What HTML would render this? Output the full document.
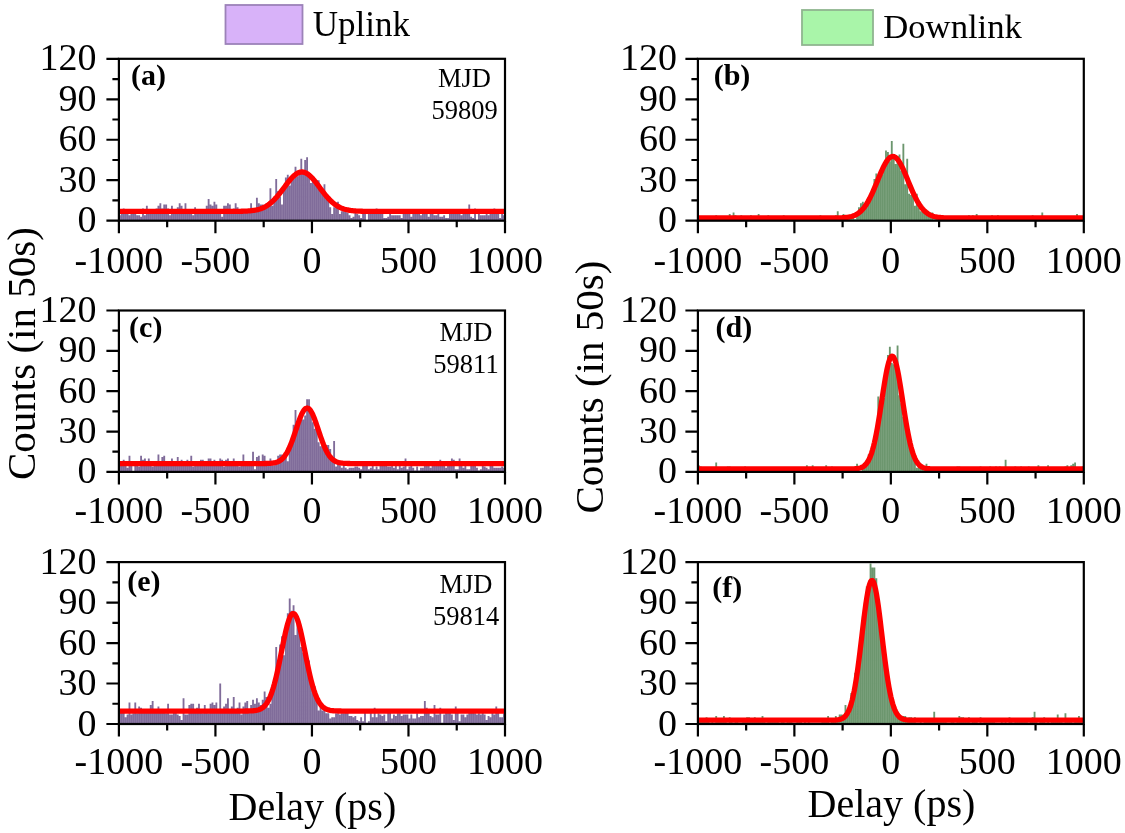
<!DOCTYPE html><html><head><meta charset="utf-8"><style>html,body{margin:0;padding:0;background:#fff;width:1125px;height:833px;overflow:hidden}svg{display:block;filter:blur(0.4px)}text{font-family:"Liberation Serif",serif;fill:#000}</style></head><body>
<svg width="1125" height="833" viewBox="0 0 1125 833">
<path fill="#806c9a" d="M118.90 220.70h1.85v-5.40h-1.85zM120.83 220.70h1.85v-8.09h-1.85zM122.76 220.70h1.85v-12.14h-1.85zM124.69 220.70h1.85v-10.79h-1.85zM126.62 220.70h1.85v-6.75h-1.85zM128.55 220.70h1.85v-5.40h-1.85zM130.48 220.70h1.85v-6.75h-1.85zM132.41 220.70h1.85v-6.75h-1.85zM134.34 220.70h1.85v-6.75h-1.85zM136.27 220.70h1.85v-5.40h-1.85zM138.21 220.70h1.85v-5.40h-1.85zM140.14 220.70h1.85v-4.05h-1.85zM142.07 220.70h1.85v-12.14h-1.85zM144.00 220.70h1.85v-5.40h-1.85zM145.93 220.70h1.85v-14.84h-1.85zM147.86 220.70h1.85v-10.79h-1.85zM149.79 220.70h1.85v-9.44h-1.85zM151.72 220.70h1.85v-8.09h-1.85zM153.65 220.70h1.85v-9.44h-1.85zM155.58 220.70h1.85v-12.14h-1.85zM157.51 220.70h1.85v-14.84h-1.85zM159.44 220.70h1.85v-17.54h-1.85zM161.37 220.70h1.85v-12.14h-1.85zM163.30 220.70h1.85v-16.19h-1.85zM165.23 220.70h1.85v-16.19h-1.85zM167.16 220.70h1.85v-12.14h-1.85zM169.09 220.70h1.85v-5.40h-1.85zM171.02 220.70h1.85v-14.84h-1.85zM172.95 220.70h1.85v-9.44h-1.85zM174.88 220.70h1.85v-6.75h-1.85zM176.81 220.70h1.85v-13.49h-1.85zM178.75 220.70h1.85v-17.54h-1.85zM180.68 220.70h1.85v-14.84h-1.85zM182.61 220.70h1.85v-6.75h-1.85zM184.54 220.70h1.85v-17.54h-1.85zM186.47 220.70h1.85v-9.44h-1.85zM188.40 220.70h1.85v-8.09h-1.85zM190.33 220.70h1.85v-8.09h-1.85zM192.26 220.70h1.85v-5.40h-1.85zM194.19 220.70h1.85v-13.49h-1.85zM196.12 220.70h1.85v-10.79h-1.85zM198.05 220.70h1.85v-10.79h-1.85zM199.98 220.70h1.85v-10.79h-1.85zM201.91 220.70h1.85v-10.79h-1.85zM203.84 220.70h1.85v-10.79h-1.85zM205.77 220.70h1.85v-14.84h-1.85zM207.70 220.70h1.85v-21.59h-1.85zM209.63 220.70h1.85v-16.19h-1.85zM211.56 220.70h1.85v-14.84h-1.85zM213.49 220.70h1.85v-18.89h-1.85zM215.43 220.70h1.85v-16.19h-1.85zM217.36 220.70h1.85v-10.79h-1.85zM219.29 220.70h1.85v-9.44h-1.85zM221.22 220.70h1.85v-4.05h-1.85zM223.15 220.70h1.85v-14.84h-1.85zM225.08 220.70h1.85v-14.84h-1.85zM227.01 220.70h1.85v-17.54h-1.85zM228.94 220.70h1.85v-16.19h-1.85zM230.87 220.70h1.85v-10.79h-1.85zM232.80 220.70h1.85v-12.14h-1.85zM234.73 220.70h1.85v-17.54h-1.85zM236.66 220.70h1.85v-13.49h-1.85zM238.59 220.70h1.85v-6.75h-1.85zM240.52 220.70h1.85v-9.44h-1.85zM242.45 220.70h1.85v-9.44h-1.85zM244.38 220.70h1.85v-8.09h-1.85zM246.31 220.70h1.85v-9.44h-1.85zM248.24 220.70h1.85v-9.44h-1.85zM250.17 220.70h1.85v-17.54h-1.85zM252.10 220.70h1.85v-9.44h-1.85zM254.04 220.70h1.85v-9.44h-1.85zM255.97 220.70h1.85v-22.94h-1.85zM257.90 220.70h1.85v-17.54h-1.85zM259.83 220.70h1.85v-16.19h-1.85zM261.76 220.70h1.85v-16.19h-1.85zM263.69 220.70h1.85v-14.84h-1.85zM265.62 220.70h1.85v-17.54h-1.85zM267.55 220.70h1.85v-14.84h-1.85zM269.48 220.70h1.85v-32.38h-1.85zM271.41 220.70h1.85v-14.84h-1.85zM273.34 220.70h1.85v-24.28h-1.85zM275.27 220.70h1.85v-41.82h-1.85zM277.20 220.70h1.85v-29.68h-1.85zM279.13 220.70h1.85v-24.28h-1.85zM281.06 220.70h1.85v-16.19h-1.85zM282.99 220.70h1.85v-35.08h-1.85zM284.92 220.70h1.85v-43.17h-1.85zM286.85 220.70h1.85v-45.87h-1.85zM288.78 220.70h1.85v-35.08h-1.85zM290.71 220.70h1.85v-41.82h-1.85zM292.64 220.70h1.85v-41.82h-1.85zM294.58 220.70h1.85v-53.97h-1.85zM296.51 220.70h1.85v-44.52h-1.85zM298.44 220.70h1.85v-48.57h-1.85zM300.37 220.70h1.85v-62.06h-1.85zM302.30 220.70h1.85v-47.22h-1.85zM304.23 220.70h1.85v-60.71h-1.85zM306.16 220.70h1.85v-63.41h-1.85zM308.09 220.70h1.85v-44.52h-1.85zM310.02 220.70h1.85v-37.78h-1.85zM311.95 220.70h1.85v-43.17h-1.85zM313.88 220.70h1.85v-36.43h-1.85zM315.81 220.70h1.85v-40.47h-1.85zM317.74 220.70h1.85v-40.47h-1.85zM319.67 220.70h1.85v-32.38h-1.85zM321.60 220.70h1.85v-31.03h-1.85zM323.53 220.70h1.85v-36.43h-1.85zM325.46 220.70h1.85v-25.63h-1.85zM327.39 220.70h1.85v-22.94h-1.85zM329.32 220.70h1.85v-13.49h-1.85zM331.25 220.70h1.85v-6.75h-1.85zM333.19 220.70h1.85v-13.49h-1.85zM335.12 220.70h1.85v-16.19h-1.85zM337.05 220.70h1.85v-18.89h-1.85zM338.98 220.70h1.85v-6.75h-1.85zM340.91 220.70h1.85v-9.44h-1.85zM342.84 220.70h1.85v-9.44h-1.85zM344.77 220.70h1.85v-13.49h-1.85zM346.70 220.70h1.85v-8.09h-1.85zM348.63 220.70h1.85v-5.40h-1.85zM350.56 220.70h1.85v-2.70h-1.85zM352.49 220.70h1.85v-4.05h-1.85zM354.42 220.70h1.85v-8.09h-1.85zM356.35 220.70h1.85v-6.75h-1.85zM358.28 220.70h1.85v-5.40h-1.85zM360.21 220.70h1.85v-2.70h-1.85zM362.14 220.70h1.85v-8.09h-1.85zM364.07 220.70h1.85v-6.75h-1.85zM367.93 220.70h1.85v-8.09h-1.85zM369.87 220.70h1.85v-6.75h-1.85zM371.80 220.70h1.85v-6.75h-1.85zM373.73 220.70h1.85v-6.75h-1.85zM375.66 220.70h1.85v-12.14h-1.85zM377.59 220.70h1.85v-10.79h-1.85zM379.52 220.70h1.85v-6.75h-1.85zM381.45 220.70h1.85v-10.79h-1.85zM383.38 220.70h1.85v-2.70h-1.85zM385.31 220.70h1.85v-2.70h-1.85zM387.24 220.70h1.85v-4.05h-1.85zM389.17 220.70h1.85v-10.79h-1.85zM391.10 220.70h1.85v-5.40h-1.85zM393.03 220.70h1.85v-5.40h-1.85zM394.96 220.70h1.85v-5.40h-1.85zM396.89 220.70h1.85v-5.40h-1.85zM398.82 220.70h1.85v-5.40h-1.85zM400.75 220.70h1.85v-2.70h-1.85zM402.68 220.70h1.85v-8.09h-1.85zM404.61 220.70h1.85v-9.44h-1.85zM406.54 220.70h1.85v-10.79h-1.85zM408.48 220.70h1.85v-6.75h-1.85zM410.41 220.70h1.85v-4.05h-1.85zM412.34 220.70h1.85v-6.75h-1.85zM414.27 220.70h1.85v-9.44h-1.85zM416.20 220.70h1.85v-6.75h-1.85zM418.13 220.70h1.85v-6.75h-1.85zM420.06 220.70h1.85v-5.40h-1.85zM421.99 220.70h1.85v-8.09h-1.85zM423.92 220.70h1.85v-6.75h-1.85zM425.85 220.70h1.85v-9.44h-1.85zM427.78 220.70h1.85v-4.05h-1.85zM429.71 220.70h1.85v-6.75h-1.85zM431.64 220.70h1.85v-10.79h-1.85zM433.57 220.70h1.85v-5.40h-1.85zM435.50 220.70h1.85v-5.40h-1.85zM437.43 220.70h1.85v-10.79h-1.85zM439.36 220.70h1.85v-4.05h-1.85zM441.29 220.70h1.85v-4.05h-1.85zM443.22 220.70h1.85v-5.40h-1.85zM445.15 220.70h1.85v-2.70h-1.85zM447.09 220.70h1.85v-2.70h-1.85zM449.02 220.70h1.85v-8.09h-1.85zM450.95 220.70h1.85v-6.75h-1.85zM452.88 220.70h1.85v-8.09h-1.85zM454.81 220.70h1.85v-8.09h-1.85zM456.74 220.70h1.85v-8.09h-1.85zM458.67 220.70h1.85v-6.75h-1.85zM460.60 220.70h1.85v-5.40h-1.85zM462.53 220.70h1.85v-9.44h-1.85zM464.46 220.70h1.85v-8.09h-1.85zM466.39 220.70h1.85v-8.09h-1.85zM468.32 220.70h1.85v-16.19h-1.85zM470.25 220.70h1.85v-4.05h-1.85zM472.18 220.70h1.85v-2.70h-1.85zM474.11 220.70h1.85v-12.14h-1.85zM477.97 220.70h1.85v-6.75h-1.85zM479.90 220.70h1.85v-5.40h-1.85zM481.83 220.70h1.85v-5.40h-1.85zM483.76 220.70h1.85v-5.40h-1.85zM485.70 220.70h1.85v-8.09h-1.85zM487.63 220.70h1.85v-5.40h-1.85zM489.56 220.70h1.85v-8.09h-1.85zM491.49 220.70h1.85v-8.09h-1.85zM493.42 220.70h1.85v-12.14h-1.85zM495.35 220.70h1.85v-10.79h-1.85zM497.28 220.70h1.85v-8.09h-1.85zM499.21 220.70h1.85v-2.70h-1.85zM501.14 220.70h1.85v-9.44h-1.85zM503.07 220.70h1.85v-5.40h-1.85z"/>
<polyline fill="none" stroke="#ff0000" stroke-width="5.3" stroke-linejoin="round" points="118.90,211.39 119.87,211.39 120.83,211.39 121.80,211.39 122.76,211.39 123.73,211.39 124.69,211.39 125.66,211.39 126.62,211.39 127.59,211.39 128.55,211.39 129.52,211.39 130.48,211.39 131.45,211.39 132.41,211.39 133.38,211.39 134.34,211.39 135.31,211.39 136.27,211.39 137.24,211.39 138.21,211.39 139.17,211.39 140.14,211.39 141.10,211.39 142.07,211.39 143.03,211.39 144.00,211.39 144.96,211.39 145.93,211.39 146.89,211.39 147.86,211.39 148.82,211.39 149.79,211.39 150.75,211.39 151.72,211.39 152.68,211.39 153.65,211.39 154.61,211.39 155.58,211.39 156.54,211.39 157.51,211.39 158.48,211.39 159.44,211.39 160.41,211.39 161.37,211.39 162.34,211.39 163.30,211.39 164.27,211.39 165.23,211.39 166.20,211.39 167.16,211.39 168.13,211.39 169.09,211.39 170.06,211.39 171.02,211.39 171.99,211.39 172.95,211.39 173.92,211.39 174.88,211.39 175.85,211.39 176.81,211.39 177.78,211.39 178.75,211.39 179.71,211.39 180.68,211.39 181.64,211.39 182.61,211.39 183.57,211.39 184.54,211.39 185.50,211.39 186.47,211.39 187.43,211.39 188.40,211.39 189.36,211.39 190.33,211.39 191.29,211.39 192.26,211.39 193.22,211.39 194.19,211.39 195.15,211.39 196.12,211.39 197.09,211.39 198.05,211.39 199.02,211.39 199.98,211.39 200.95,211.39 201.91,211.39 202.88,211.39 203.84,211.39 204.81,211.39 205.77,211.39 206.74,211.39 207.70,211.39 208.67,211.39 209.63,211.39 210.60,211.39 211.56,211.39 212.53,211.39 213.49,211.39 214.46,211.39 215.43,211.39 216.39,211.39 217.36,211.39 218.32,211.39 219.29,211.39 220.25,211.39 221.22,211.39 222.18,211.39 223.15,211.39 224.11,211.39 225.08,211.39 226.04,211.39 227.01,211.39 227.97,211.38 228.94,211.38 229.90,211.38 230.87,211.38 231.83,211.37 232.80,211.37 233.76,211.37 234.73,211.36 235.70,211.35 236.66,211.34 237.63,211.33 238.59,211.32 239.56,211.31 240.52,211.29 241.49,211.27 242.45,211.25 243.42,211.22 244.38,211.18 245.35,211.14 246.31,211.10 247.28,211.04 248.24,210.98 249.21,210.91 250.17,210.82 251.14,210.73 252.10,210.62 253.07,210.49 254.03,210.35 255.00,210.19 255.97,210.00 256.93,209.80 257.90,209.56 258.86,209.30 259.83,209.01 260.79,208.69 261.76,208.33 262.72,207.94 263.69,207.50 264.65,207.03 265.62,206.51 266.58,205.94 267.55,205.33 268.51,204.67 269.48,203.95 270.44,203.19 271.41,202.38 272.37,201.51 273.34,200.59 274.31,199.62 275.27,198.60 276.24,197.53 277.20,196.42 278.17,195.27 279.13,194.08 280.10,192.86 281.06,191.61 282.03,190.34 282.99,189.05 283.96,187.76 284.92,186.46 285.89,185.17 286.85,183.89 287.82,182.63 288.78,181.41 289.75,180.23 290.71,179.10 291.68,178.02 292.64,177.01 293.61,176.07 294.58,175.22 295.54,174.45 296.51,173.78 297.47,173.21 298.44,172.74 299.40,172.39 300.37,172.14 301.33,172.02 302.30,172.00 303.26,172.11 304.23,172.33 305.19,172.66 306.16,173.11 307.12,173.66 308.09,174.31 309.05,175.06 310.02,175.89 310.98,176.81 311.95,177.81 312.92,178.87 313.88,180.00 314.85,181.17 315.81,182.39 316.78,183.64 317.74,184.91 318.71,186.20 319.67,187.50 320.64,188.79 321.60,190.08 322.57,191.36 323.53,192.61 324.50,193.84 325.46,195.04 326.43,196.20 327.39,197.32 328.36,198.39 329.32,199.42 330.29,200.40 331.25,201.33 332.22,202.21 333.19,203.03 334.15,203.81 335.12,204.53 336.08,205.20 337.05,205.82 338.01,206.40 338.98,206.93 339.94,207.41 340.91,207.85 341.87,208.26 342.84,208.62 343.80,208.95 344.77,209.25 345.73,209.51 346.70,209.75 347.66,209.96 348.63,210.15 349.59,210.32 350.56,210.47 351.53,210.59 352.49,210.71 353.46,210.81 354.42,210.89 355.39,210.97 356.35,211.03 357.32,211.09 358.28,211.13 359.25,211.18 360.21,211.21 361.18,211.24 362.14,211.27 363.11,211.29 364.07,211.30 365.04,211.32 366.00,211.33 366.97,211.34 367.93,211.35 368.90,211.36 369.87,211.36 370.83,211.37 371.80,211.37 372.76,211.38 373.73,211.38 374.69,211.38 375.66,211.38 376.62,211.39 377.59,211.39 378.55,211.39 379.52,211.39 380.48,211.39 381.45,211.39 382.41,211.39 383.38,211.39 384.34,211.39 385.31,211.39 386.27,211.39 387.24,211.39 388.20,211.39 389.17,211.39 390.14,211.39 391.10,211.39 392.07,211.39 393.03,211.39 394.00,211.39 394.96,211.39 395.93,211.39 396.89,211.39 397.86,211.39 398.82,211.39 399.79,211.39 400.75,211.39 401.72,211.39 402.68,211.39 403.65,211.39 404.61,211.39 405.58,211.39 406.54,211.39 407.51,211.39 408.48,211.39 409.44,211.39 410.41,211.39 411.37,211.39 412.34,211.39 413.30,211.39 414.27,211.39 415.23,211.39 416.20,211.39 417.16,211.39 418.13,211.39 419.09,211.39 420.06,211.39 421.02,211.39 421.99,211.39 422.95,211.39 423.92,211.39 424.88,211.39 425.85,211.39 426.81,211.39 427.78,211.39 428.75,211.39 429.71,211.39 430.68,211.39 431.64,211.39 432.61,211.39 433.57,211.39 434.54,211.39 435.50,211.39 436.47,211.39 437.43,211.39 438.40,211.39 439.36,211.39 440.33,211.39 441.29,211.39 442.26,211.39 443.22,211.39 444.19,211.39 445.15,211.39 446.12,211.39 447.09,211.39 448.05,211.39 449.02,211.39 449.98,211.39 450.95,211.39 451.91,211.39 452.88,211.39 453.84,211.39 454.81,211.39 455.77,211.39 456.74,211.39 457.70,211.39 458.67,211.39 459.63,211.39 460.60,211.39 461.56,211.39 462.53,211.39 463.49,211.39 464.46,211.39 465.42,211.39 466.39,211.39 467.36,211.39 468.32,211.39 469.29,211.39 470.25,211.39 471.22,211.39 472.18,211.39 473.15,211.39 474.11,211.39 475.08,211.39 476.04,211.39 477.01,211.39 477.97,211.39 478.94,211.39 479.90,211.39 480.87,211.39 481.83,211.39 482.80,211.39 483.76,211.39 484.73,211.39 485.70,211.39 486.66,211.39 487.63,211.39 488.59,211.39 489.56,211.39 490.52,211.39 491.49,211.39 492.45,211.39 493.42,211.39 494.38,211.39 495.35,211.39 496.31,211.39 497.28,211.39 498.24,211.39 499.21,211.39 500.17,211.39 501.14,211.39 502.10,211.39 503.07,211.39 504.03,211.39 505.00,211.39"/>
<rect x="118.9" y="58.8" width="386.10" height="161.90" fill="none" stroke="#000" stroke-width="2.2"/>
<path stroke="#000" stroke-width="2.2" fill="none" d="M118.90 220.70h-12.5M118.90 200.46h-6.5M118.90 180.22h-12.5M118.90 159.99h-6.5M118.90 139.75h-12.5M118.90 119.51h-6.5M118.90 99.28h-12.5M118.90 79.04h-6.5M118.90 58.80h-12.5M118.90 220.70v12.5M167.16 220.70v6.5M215.43 220.70v12.5M263.69 220.70v6.5M311.95 220.70v12.5M360.21 220.70v6.5M408.48 220.70v12.5M456.74 220.70v6.5M505.00 220.70v12.5"/>
<text x="96.4" y="232.2" font-size="38" text-anchor="end">0</text>
<text x="96.4" y="191.7" font-size="38" text-anchor="end">30</text>
<text x="96.4" y="151.2" font-size="38" text-anchor="end">60</text>
<text x="96.4" y="110.8" font-size="38" text-anchor="end">90</text>
<text x="96.4" y="70.3" font-size="38" text-anchor="end">120</text>
<text x="118.9" y="272.7" font-size="38" text-anchor="middle">-1000</text>
<text x="215.4" y="272.7" font-size="38" text-anchor="middle">-500</text>
<text x="312.0" y="272.7" font-size="38" text-anchor="middle">0</text>
<text x="408.5" y="272.7" font-size="38" text-anchor="middle">500</text>
<text x="505.0" y="272.7" font-size="38" text-anchor="middle">1000</text>
<text x="130.9" y="84.7" font-size="30" font-weight="bold">(a)</text>
<text x="464.5" y="86.9" font-size="26.5" text-anchor="middle">MJD</text>
<text x="464.5" y="119.3" font-size="26.5" text-anchor="middle">59809</text>
<path fill="#6c966e" d="M697.90 220.70h1.85v-2.70h-1.85zM699.83 220.70h1.85v-1.35h-1.85zM701.76 220.70h1.85v-2.70h-1.85zM703.69 220.70h1.85v-2.70h-1.85zM705.62 220.70h1.85v-1.35h-1.85zM707.55 220.70h1.85v-1.35h-1.85zM709.48 220.70h1.85v-4.05h-1.85zM711.41 220.70h1.85v-1.35h-1.85zM713.34 220.70h1.85v-4.05h-1.85zM715.27 220.70h1.85v-5.40h-1.85zM717.19 220.70h1.85v-4.05h-1.85zM721.05 220.70h1.85v-1.35h-1.85zM722.98 220.70h1.85v-1.35h-1.85zM724.91 220.70h1.85v-2.70h-1.85zM726.84 220.70h1.85v-1.35h-1.85zM728.77 220.70h1.85v-6.75h-1.85zM730.70 220.70h1.85v-2.70h-1.85zM732.63 220.70h1.85v-8.09h-1.85zM734.56 220.70h1.85v-5.40h-1.85zM736.49 220.70h1.85v-1.35h-1.85zM738.42 220.70h1.85v-2.70h-1.85zM740.35 220.70h1.85v-5.40h-1.85zM742.28 220.70h1.85v-2.70h-1.85zM744.21 220.70h1.85v-1.35h-1.85zM748.07 220.70h1.85v-4.05h-1.85zM750.00 220.70h1.85v-5.40h-1.85zM751.93 220.70h1.85v-2.70h-1.85zM753.86 220.70h1.85v-1.35h-1.85zM757.71 220.70h1.85v-6.75h-1.85zM759.64 220.70h1.85v-2.70h-1.85zM761.57 220.70h1.85v-1.35h-1.85zM765.43 220.70h1.85v-2.70h-1.85zM767.36 220.70h1.85v-5.40h-1.85zM769.29 220.70h1.85v-2.70h-1.85zM771.22 220.70h1.85v-1.35h-1.85zM773.15 220.70h1.85v-1.35h-1.85zM775.08 220.70h1.85v-1.35h-1.85zM780.87 220.70h1.85v-4.05h-1.85zM782.80 220.70h1.85v-5.40h-1.85zM786.66 220.70h1.85v-2.70h-1.85zM788.59 220.70h1.85v-1.35h-1.85zM790.52 220.70h1.85v-2.70h-1.85zM792.45 220.70h1.85v-1.35h-1.85zM794.38 220.70h1.85v-2.70h-1.85zM796.30 220.70h1.85v-2.70h-1.85zM798.23 220.70h1.85v-4.05h-1.85zM804.02 220.70h1.85v-1.35h-1.85zM805.95 220.70h1.85v-2.70h-1.85zM807.88 220.70h1.85v-1.35h-1.85zM809.81 220.70h1.85v-2.70h-1.85zM811.74 220.70h1.85v-2.70h-1.85zM813.67 220.70h1.85v-1.35h-1.85zM815.60 220.70h1.85v-2.70h-1.85zM817.53 220.70h1.85v-1.35h-1.85zM819.46 220.70h1.85v-5.40h-1.85zM821.39 220.70h1.85v-2.70h-1.85zM823.32 220.70h1.85v-1.35h-1.85zM825.25 220.70h1.85v-1.35h-1.85zM827.18 220.70h1.85v-4.05h-1.85zM829.11 220.70h1.85v-4.05h-1.85zM831.04 220.70h1.85v-2.70h-1.85zM832.96 220.70h1.85v-2.70h-1.85zM834.89 220.70h1.85v-5.40h-1.85zM836.82 220.70h1.85v-9.44h-1.85zM838.75 220.70h1.85v-1.35h-1.85zM840.68 220.70h1.85v-1.35h-1.85zM842.61 220.70h1.85v-6.75h-1.85zM844.54 220.70h1.85v-1.35h-1.85zM846.47 220.70h1.85v-5.40h-1.85zM848.40 220.70h1.85v-2.70h-1.85zM850.33 220.70h1.85v-4.05h-1.85zM852.26 220.70h1.85v-2.70h-1.85zM854.19 220.70h1.85v-1.35h-1.85zM856.12 220.70h1.85v-6.75h-1.85zM858.05 220.70h1.85v-13.49h-1.85zM859.98 220.70h1.85v-17.54h-1.85zM861.91 220.70h1.85v-18.89h-1.85zM863.84 220.70h1.85v-14.84h-1.85zM865.77 220.70h1.85v-14.84h-1.85zM867.70 220.70h1.85v-21.59h-1.85zM869.63 220.70h1.85v-26.98h-1.85zM871.55 220.70h1.85v-29.68h-1.85zM873.48 220.70h1.85v-41.82h-1.85zM875.41 220.70h1.85v-47.22h-1.85zM877.34 220.70h1.85v-43.17h-1.85zM879.27 220.70h1.85v-44.52h-1.85zM881.20 220.70h1.85v-45.87h-1.85zM883.13 220.70h1.85v-55.32h-1.85zM885.06 220.70h1.85v-70.16h-1.85zM886.99 220.70h1.85v-68.81h-1.85zM888.92 220.70h1.85v-59.36h-1.85zM890.85 220.70h1.85v-79.60h-1.85zM892.78 220.70h1.85v-63.41h-1.85zM894.71 220.70h1.85v-56.66h-1.85zM896.64 220.70h1.85v-64.76h-1.85zM898.57 220.70h1.85v-66.11h-1.85zM900.50 220.70h1.85v-49.92h-1.85zM902.43 220.70h1.85v-76.90h-1.85zM904.36 220.70h1.85v-36.43h-1.85zM906.29 220.70h1.85v-62.06h-1.85zM908.22 220.70h1.85v-26.98h-1.85zM910.14 220.70h1.85v-25.63h-1.85zM912.07 220.70h1.85v-32.38h-1.85zM914.00 220.70h1.85v-14.84h-1.85zM915.93 220.70h1.85v-26.98h-1.85zM917.86 220.70h1.85v-13.49h-1.85zM919.79 220.70h1.85v-9.44h-1.85zM921.72 220.70h1.85v-13.49h-1.85zM923.65 220.70h1.85v-8.09h-1.85zM925.58 220.70h1.85v-8.09h-1.85zM927.51 220.70h1.85v-5.40h-1.85zM929.44 220.70h1.85v-4.05h-1.85zM931.37 220.70h1.85v-8.09h-1.85zM933.30 220.70h1.85v-1.35h-1.85zM935.23 220.70h1.85v-4.05h-1.85zM941.02 220.70h1.85v-2.70h-1.85zM942.95 220.70h1.85v-2.70h-1.85zM944.88 220.70h1.85v-2.70h-1.85zM948.74 220.70h1.85v-2.70h-1.85zM950.66 220.70h1.85v-2.70h-1.85zM952.59 220.70h1.85v-1.35h-1.85zM954.52 220.70h1.85v-1.35h-1.85zM956.45 220.70h1.85v-1.35h-1.85zM958.38 220.70h1.85v-2.70h-1.85zM960.31 220.70h1.85v-4.05h-1.85zM962.24 220.70h1.85v-1.35h-1.85zM964.17 220.70h1.85v-2.70h-1.85zM966.10 220.70h1.85v-1.35h-1.85zM968.03 220.70h1.85v-5.40h-1.85zM969.96 220.70h1.85v-1.35h-1.85zM971.89 220.70h1.85v-5.40h-1.85zM975.75 220.70h1.85v-6.75h-1.85zM977.68 220.70h1.85v-1.35h-1.85zM979.61 220.70h1.85v-2.70h-1.85zM981.54 220.70h1.85v-1.35h-1.85zM983.47 220.70h1.85v-1.35h-1.85zM985.40 220.70h1.85v-1.35h-1.85zM987.33 220.70h1.85v-1.35h-1.85zM991.18 220.70h1.85v-5.40h-1.85zM993.11 220.70h1.85v-2.70h-1.85zM995.04 220.70h1.85v-1.35h-1.85zM996.97 220.70h1.85v-5.40h-1.85zM998.90 220.70h1.85v-1.35h-1.85zM1000.83 220.70h1.85v-1.35h-1.85zM1002.76 220.70h1.85v-1.35h-1.85zM1004.69 220.70h1.85v-4.05h-1.85zM1006.62 220.70h1.85v-2.70h-1.85zM1008.55 220.70h1.85v-1.35h-1.85zM1010.48 220.70h1.85v-2.70h-1.85zM1014.34 220.70h1.85v-1.35h-1.85zM1018.20 220.70h1.85v-2.70h-1.85zM1020.13 220.70h1.85v-4.05h-1.85zM1022.06 220.70h1.85v-1.35h-1.85zM1023.99 220.70h1.85v-4.05h-1.85zM1027.84 220.70h1.85v-4.05h-1.85zM1029.77 220.70h1.85v-2.70h-1.85zM1031.70 220.70h1.85v-5.40h-1.85zM1033.63 220.70h1.85v-4.05h-1.85zM1037.49 220.70h1.85v-4.05h-1.85zM1039.42 220.70h1.85v-1.35h-1.85zM1041.35 220.70h1.85v-8.09h-1.85zM1045.21 220.70h1.85v-4.05h-1.85zM1047.14 220.70h1.85v-4.05h-1.85zM1052.93 220.70h1.85v-4.05h-1.85zM1054.86 220.70h1.85v-1.35h-1.85zM1056.79 220.70h1.85v-2.70h-1.85zM1058.72 220.70h1.85v-2.70h-1.85zM1064.51 220.70h1.85v-1.35h-1.85zM1066.43 220.70h1.85v-2.70h-1.85zM1068.36 220.70h1.85v-2.70h-1.85zM1070.29 220.70h1.85v-2.70h-1.85zM1072.22 220.70h1.85v-4.05h-1.85zM1074.15 220.70h1.85v-1.35h-1.85zM1076.08 220.70h1.85v-6.75h-1.85zM1078.01 220.70h1.85v-1.35h-1.85zM1079.94 220.70h1.85v-4.05h-1.85zM1081.87 220.70h1.85v-2.70h-1.85z"/>
<polyline fill="none" stroke="#ff0000" stroke-width="5.3" stroke-linejoin="round" points="697.90,218.00 698.86,218.00 699.83,218.00 700.79,218.00 701.76,218.00 702.72,218.00 703.69,218.00 704.65,218.00 705.62,218.00 706.58,218.00 707.55,218.00 708.51,218.00 709.48,218.00 710.44,218.00 711.41,218.00 712.37,218.00 713.34,218.00 714.30,218.00 715.27,218.00 716.23,218.00 717.19,218.00 718.16,218.00 719.12,218.00 720.09,218.00 721.05,218.00 722.02,218.00 722.98,218.00 723.95,218.00 724.91,218.00 725.88,218.00 726.84,218.00 727.81,218.00 728.77,218.00 729.74,218.00 730.70,218.00 731.67,218.00 732.63,218.00 733.60,218.00 734.56,218.00 735.53,218.00 736.49,218.00 737.45,218.00 738.42,218.00 739.38,218.00 740.35,218.00 741.31,218.00 742.28,218.00 743.24,218.00 744.21,218.00 745.17,218.00 746.14,218.00 747.10,218.00 748.07,218.00 749.03,218.00 750.00,218.00 750.96,218.00 751.93,218.00 752.89,218.00 753.86,218.00 754.82,218.00 755.78,218.00 756.75,218.00 757.71,218.00 758.68,218.00 759.64,218.00 760.61,218.00 761.57,218.00 762.54,218.00 763.50,218.00 764.47,218.00 765.43,218.00 766.40,218.00 767.36,218.00 768.33,218.00 769.29,218.00 770.26,218.00 771.22,218.00 772.19,218.00 773.15,218.00 774.12,218.00 775.08,218.00 776.04,218.00 777.01,218.00 777.97,218.00 778.94,218.00 779.90,218.00 780.87,218.00 781.83,218.00 782.80,218.00 783.76,218.00 784.73,218.00 785.69,218.00 786.66,218.00 787.62,218.00 788.59,218.00 789.55,218.00 790.52,218.00 791.48,218.00 792.45,218.00 793.41,218.00 794.38,218.00 795.34,218.00 796.30,218.00 797.27,218.00 798.23,218.00 799.20,218.00 800.16,218.00 801.13,218.00 802.09,218.00 803.06,218.00 804.02,218.00 804.99,218.00 805.95,218.00 806.92,218.00 807.88,218.00 808.85,218.00 809.81,218.00 810.78,218.00 811.74,218.00 812.71,218.00 813.67,218.00 814.63,218.00 815.60,218.00 816.56,218.00 817.53,218.00 818.49,218.00 819.46,218.00 820.42,218.00 821.39,218.00 822.35,218.00 823.32,218.00 824.28,218.00 825.25,218.00 826.21,218.00 827.18,218.00 828.14,217.99 829.11,217.99 830.07,217.99 831.04,217.98 832.00,217.98 832.96,217.97 833.93,217.97 834.89,217.96 835.86,217.94 836.82,217.93 837.79,217.91 838.75,217.89 839.72,217.86 840.68,217.82 841.65,217.78 842.61,217.73 843.58,217.67 844.54,217.59 845.51,217.50 846.47,217.39 847.44,217.26 848.40,217.11 849.37,216.94 850.33,216.73 851.30,216.49 852.26,216.20 853.22,215.88 854.19,215.51 855.15,215.08 856.12,214.59 857.08,214.04 858.05,213.41 859.01,212.71 859.98,211.93 860.94,211.06 861.91,210.09 862.87,209.03 863.84,207.86 864.80,206.59 865.77,205.21 866.73,203.72 867.70,202.12 868.66,200.41 869.63,198.59 870.59,196.68 871.55,194.67 872.52,192.57 873.48,190.39 874.45,188.15 875.41,185.85 876.38,183.52 877.34,181.16 878.31,178.80 879.27,176.45 880.24,174.15 881.20,171.89 882.17,169.72 883.13,167.65 884.10,165.69 885.06,163.88 886.03,162.23 886.99,160.76 887.96,159.48 888.92,158.42 889.89,157.58 890.85,156.97 891.81,156.60 892.78,156.48 893.74,156.60 894.71,156.97 895.67,157.58 896.64,158.42 897.60,159.48 898.57,160.76 899.53,162.23 900.50,163.88 901.46,165.69 902.43,167.65 903.39,169.72 904.36,171.89 905.32,174.15 906.29,176.45 907.25,178.80 908.22,181.16 909.18,183.52 910.14,185.85 911.11,188.15 912.07,190.39 913.04,192.57 914.00,194.67 914.97,196.68 915.93,198.59 916.90,200.41 917.86,202.12 918.83,203.72 919.79,205.21 920.76,206.59 921.72,207.86 922.69,209.03 923.65,210.09 924.62,211.06 925.58,211.93 926.55,212.71 927.51,213.41 928.48,214.04 929.44,214.59 930.40,215.08 931.37,215.51 932.33,215.88 933.30,216.20 934.26,216.49 935.23,216.73 936.19,216.94 937.16,217.11 938.12,217.26 939.09,217.39 940.05,217.50 941.02,217.59 941.98,217.67 942.95,217.73 943.91,217.78 944.88,217.82 945.84,217.86 946.81,217.89 947.77,217.91 948.73,217.93 949.70,217.94 950.66,217.96 951.63,217.97 952.59,217.97 953.56,217.98 954.52,217.98 955.49,217.99 956.45,217.99 957.42,217.99 958.38,218.00 959.35,218.00 960.31,218.00 961.28,218.00 962.24,218.00 963.21,218.00 964.17,218.00 965.14,218.00 966.10,218.00 967.07,218.00 968.03,218.00 968.99,218.00 969.96,218.00 970.92,218.00 971.89,218.00 972.85,218.00 973.82,218.00 974.78,218.00 975.75,218.00 976.71,218.00 977.68,218.00 978.64,218.00 979.61,218.00 980.57,218.00 981.54,218.00 982.50,218.00 983.47,218.00 984.43,218.00 985.40,218.00 986.36,218.00 987.32,218.00 988.29,218.00 989.25,218.00 990.22,218.00 991.18,218.00 992.15,218.00 993.11,218.00 994.08,218.00 995.04,218.00 996.01,218.00 996.97,218.00 997.94,218.00 998.90,218.00 999.87,218.00 1000.83,218.00 1001.80,218.00 1002.76,218.00 1003.73,218.00 1004.69,218.00 1005.66,218.00 1006.62,218.00 1007.58,218.00 1008.55,218.00 1009.51,218.00 1010.48,218.00 1011.44,218.00 1012.41,218.00 1013.37,218.00 1014.34,218.00 1015.30,218.00 1016.27,218.00 1017.23,218.00 1018.20,218.00 1019.16,218.00 1020.13,218.00 1021.09,218.00 1022.06,218.00 1023.02,218.00 1023.99,218.00 1024.95,218.00 1025.91,218.00 1026.88,218.00 1027.84,218.00 1028.81,218.00 1029.77,218.00 1030.74,218.00 1031.70,218.00 1032.67,218.00 1033.63,218.00 1034.60,218.00 1035.56,218.00 1036.53,218.00 1037.49,218.00 1038.46,218.00 1039.42,218.00 1040.39,218.00 1041.35,218.00 1042.32,218.00 1043.28,218.00 1044.25,218.00 1045.21,218.00 1046.17,218.00 1047.14,218.00 1048.10,218.00 1049.07,218.00 1050.03,218.00 1051.00,218.00 1051.96,218.00 1052.93,218.00 1053.89,218.00 1054.86,218.00 1055.82,218.00 1056.79,218.00 1057.75,218.00 1058.72,218.00 1059.68,218.00 1060.65,218.00 1061.61,218.00 1062.58,218.00 1063.54,218.00 1064.50,218.00 1065.47,218.00 1066.43,218.00 1067.40,218.00 1068.36,218.00 1069.33,218.00 1070.29,218.00 1071.26,218.00 1072.22,218.00 1073.19,218.00 1074.15,218.00 1075.12,218.00 1076.08,218.00 1077.05,218.00 1078.01,218.00 1078.98,218.00 1079.94,218.00 1080.91,218.00 1081.87,218.00 1082.84,218.00 1083.80,218.00"/>
<rect x="697.9" y="58.8" width="385.90" height="161.90" fill="none" stroke="#000" stroke-width="2.2"/>
<path stroke="#000" stroke-width="2.2" fill="none" d="M697.90 220.70h-12.5M697.90 200.46h-6.5M697.90 180.22h-12.5M697.90 159.99h-6.5M697.90 139.75h-12.5M697.90 119.51h-6.5M697.90 99.28h-12.5M697.90 79.04h-6.5M697.90 58.80h-12.5M697.90 220.70v12.5M746.14 220.70v6.5M794.38 220.70v12.5M842.61 220.70v6.5M890.85 220.70v12.5M939.09 220.70v6.5M987.32 220.70v12.5M1035.56 220.70v6.5M1083.80 220.70v12.5"/>
<text x="676.9" y="232.2" font-size="38" text-anchor="end">0</text>
<text x="676.9" y="191.7" font-size="38" text-anchor="end">30</text>
<text x="676.9" y="151.2" font-size="38" text-anchor="end">60</text>
<text x="676.9" y="110.8" font-size="38" text-anchor="end">90</text>
<text x="676.9" y="70.3" font-size="38" text-anchor="end">120</text>
<text x="697.9" y="272.7" font-size="38" text-anchor="middle">-1000</text>
<text x="794.4" y="272.7" font-size="38" text-anchor="middle">-500</text>
<text x="890.8" y="272.7" font-size="38" text-anchor="middle">0</text>
<text x="987.3" y="272.7" font-size="38" text-anchor="middle">500</text>
<text x="1083.8" y="272.7" font-size="38" text-anchor="middle">1000</text>
<text x="713.7" y="84.7" font-size="30" font-weight="bold">(b)</text>
<path fill="#806c9a" d="M118.90 471.90h1.85v-9.41h-1.85zM120.83 471.90h1.85v-10.76h-1.85zM122.76 471.90h1.85v-12.10h-1.85zM124.69 471.90h1.85v-9.41h-1.85zM126.62 471.90h1.85v-4.03h-1.85zM128.55 471.90h1.85v-16.14h-1.85zM130.48 471.90h1.85v-8.07h-1.85zM134.34 471.90h1.85v-9.41h-1.85zM136.27 471.90h1.85v-8.07h-1.85zM138.21 471.90h1.85v-5.38h-1.85zM140.14 471.90h1.85v-16.14h-1.85zM142.07 471.90h1.85v-12.10h-1.85zM144.00 471.90h1.85v-13.45h-1.85zM145.93 471.90h1.85v-9.41h-1.85zM147.86 471.90h1.85v-13.45h-1.85zM149.79 471.90h1.85v-10.76h-1.85zM151.72 471.90h1.85v-5.38h-1.85zM153.65 471.90h1.85v-8.07h-1.85zM155.58 471.90h1.85v-9.41h-1.85zM157.51 471.90h1.85v-17.48h-1.85zM159.44 471.90h1.85v-9.41h-1.85zM161.37 471.90h1.85v-14.79h-1.85zM163.30 471.90h1.85v-16.14h-1.85zM165.23 471.90h1.85v-9.41h-1.85zM167.16 471.90h1.85v-9.41h-1.85zM169.09 471.90h1.85v-10.76h-1.85zM171.02 471.90h1.85v-13.45h-1.85zM172.95 471.90h1.85v-8.07h-1.85zM174.88 471.90h1.85v-8.07h-1.85zM176.81 471.90h1.85v-14.79h-1.85zM178.75 471.90h1.85v-9.41h-1.85zM180.68 471.90h1.85v-12.10h-1.85zM182.61 471.90h1.85v-10.76h-1.85zM184.54 471.90h1.85v-8.07h-1.85zM186.47 471.90h1.85v-12.10h-1.85zM188.40 471.90h1.85v-10.76h-1.85zM190.33 471.90h1.85v-16.14h-1.85zM192.26 471.90h1.85v-5.38h-1.85zM194.19 471.90h1.85v-9.41h-1.85zM196.12 471.90h1.85v-6.72h-1.85zM198.05 471.90h1.85v-6.72h-1.85zM199.98 471.90h1.85v-12.10h-1.85zM201.91 471.90h1.85v-12.10h-1.85zM203.84 471.90h1.85v-8.07h-1.85zM205.77 471.90h1.85v-9.41h-1.85zM207.70 471.90h1.85v-13.45h-1.85zM209.63 471.90h1.85v-13.45h-1.85zM211.56 471.90h1.85v-8.07h-1.85zM213.49 471.90h1.85v-12.10h-1.85zM215.43 471.90h1.85v-9.41h-1.85zM217.36 471.90h1.85v-9.41h-1.85zM219.29 471.90h1.85v-13.45h-1.85zM221.22 471.90h1.85v-12.10h-1.85zM223.15 471.90h1.85v-5.38h-1.85zM225.08 471.90h1.85v-12.10h-1.85zM227.01 471.90h1.85v-13.45h-1.85zM228.94 471.90h1.85v-9.41h-1.85zM230.87 471.90h1.85v-10.76h-1.85zM232.80 471.90h1.85v-13.45h-1.85zM234.73 471.90h1.85v-10.76h-1.85zM236.66 471.90h1.85v-10.76h-1.85zM238.59 471.90h1.85v-5.38h-1.85zM240.52 471.90h1.85v-8.07h-1.85zM242.45 471.90h1.85v-17.48h-1.85zM244.38 471.90h1.85v-10.76h-1.85zM246.31 471.90h1.85v-9.41h-1.85zM248.24 471.90h1.85v-9.41h-1.85zM250.17 471.90h1.85v-8.07h-1.85zM252.10 471.90h1.85v-20.17h-1.85zM254.04 471.90h1.85v-2.69h-1.85zM255.97 471.90h1.85v-14.79h-1.85zM257.90 471.90h1.85v-16.14h-1.85zM259.83 471.90h1.85v-8.07h-1.85zM261.76 471.90h1.85v-17.48h-1.85zM263.69 471.90h1.85v-16.14h-1.85zM265.62 471.90h1.85v-9.41h-1.85zM267.55 471.90h1.85v-10.76h-1.85zM269.48 471.90h1.85v-13.45h-1.85zM271.41 471.90h1.85v-6.72h-1.85zM273.34 471.90h1.85v-6.72h-1.85zM275.27 471.90h1.85v-9.41h-1.85zM277.20 471.90h1.85v-16.14h-1.85zM279.13 471.90h1.85v-17.48h-1.85zM281.06 471.90h1.85v-17.48h-1.85zM282.99 471.90h1.85v-17.48h-1.85zM284.92 471.90h1.85v-20.17h-1.85zM286.85 471.90h1.85v-10.76h-1.85zM288.78 471.90h1.85v-26.90h-1.85zM290.71 471.90h1.85v-32.28h-1.85zM292.64 471.90h1.85v-47.07h-1.85zM294.58 471.90h1.85v-61.87h-1.85zM296.51 471.90h1.85v-48.42h-1.85zM298.44 471.90h1.85v-48.42h-1.85zM300.37 471.90h1.85v-59.18h-1.85zM302.30 471.90h1.85v-52.45h-1.85zM304.23 471.90h1.85v-56.49h-1.85zM306.16 471.90h1.85v-72.63h-1.85zM308.09 471.90h1.85v-72.63h-1.85zM310.02 471.90h1.85v-60.52h-1.85zM311.95 471.90h1.85v-49.76h-1.85zM313.88 471.90h1.85v-43.04h-1.85zM315.81 471.90h1.85v-48.42h-1.85zM317.74 471.90h1.85v-29.59h-1.85zM319.67 471.90h1.85v-25.55h-1.85zM321.60 471.90h1.85v-32.28h-1.85zM323.53 471.90h1.85v-22.86h-1.85zM325.46 471.90h1.85v-26.90h-1.85zM327.39 471.90h1.85v-26.90h-1.85zM329.32 471.90h1.85v-22.86h-1.85zM331.25 471.90h1.85v-12.10h-1.85zM333.19 471.90h1.85v-30.93h-1.85zM335.12 471.90h1.85v-5.38h-1.85zM337.05 471.90h1.85v-10.76h-1.85zM338.98 471.90h1.85v-6.72h-1.85zM340.91 471.90h1.85v-4.03h-1.85zM342.84 471.90h1.85v-6.72h-1.85zM344.77 471.90h1.85v-4.03h-1.85zM346.70 471.90h1.85v-2.69h-1.85zM348.63 471.90h1.85v-4.03h-1.85zM350.56 471.90h1.85v-4.03h-1.85zM352.49 471.90h1.85v-4.03h-1.85zM354.42 471.90h1.85v-5.38h-1.85zM356.35 471.90h1.85v-5.38h-1.85zM358.28 471.90h1.85v-4.03h-1.85zM360.21 471.90h1.85v-2.69h-1.85zM362.14 471.90h1.85v-6.72h-1.85zM364.07 471.90h1.85v-6.72h-1.85zM366.00 471.90h1.85v-6.72h-1.85zM367.93 471.90h1.85v-2.69h-1.85zM369.87 471.90h1.85v-4.03h-1.85zM371.80 471.90h1.85v-8.07h-1.85zM373.73 471.90h1.85v-2.69h-1.85zM375.66 471.90h1.85v-5.38h-1.85zM377.59 471.90h1.85v-2.69h-1.85zM379.52 471.90h1.85v-8.07h-1.85zM381.45 471.90h1.85v-8.07h-1.85zM383.38 471.90h1.85v-9.41h-1.85zM385.31 471.90h1.85v-10.76h-1.85zM387.24 471.90h1.85v-5.38h-1.85zM389.17 471.90h1.85v-5.38h-1.85zM391.10 471.90h1.85v-6.72h-1.85zM393.03 471.90h1.85v-4.03h-1.85zM394.96 471.90h1.85v-8.07h-1.85zM396.89 471.90h1.85v-2.69h-1.85zM398.82 471.90h1.85v-8.07h-1.85zM400.75 471.90h1.85v-4.03h-1.85zM402.68 471.90h1.85v-5.38h-1.85zM404.61 471.90h1.85v-13.45h-1.85zM406.54 471.90h1.85v-2.69h-1.85zM408.48 471.90h1.85v-5.38h-1.85zM410.41 471.90h1.85v-8.07h-1.85zM412.34 471.90h1.85v-4.03h-1.85zM414.27 471.90h1.85v-1.34h-1.85zM416.20 471.90h1.85v-5.38h-1.85zM418.13 471.90h1.85v-1.34h-1.85zM420.06 471.90h1.85v-4.03h-1.85zM421.99 471.90h1.85v-4.03h-1.85zM423.92 471.90h1.85v-8.07h-1.85zM425.85 471.90h1.85v-9.41h-1.85zM427.78 471.90h1.85v-8.07h-1.85zM429.71 471.90h1.85v-4.03h-1.85zM431.64 471.90h1.85v-8.07h-1.85zM433.57 471.90h1.85v-6.72h-1.85zM435.50 471.90h1.85v-8.07h-1.85zM437.43 471.90h1.85v-6.72h-1.85zM439.36 471.90h1.85v-12.10h-1.85zM441.29 471.90h1.85v-10.76h-1.85zM443.22 471.90h1.85v-6.72h-1.85zM445.15 471.90h1.85v-4.03h-1.85zM447.09 471.90h1.85v-10.76h-1.85zM449.02 471.90h1.85v-6.72h-1.85zM450.95 471.90h1.85v-13.45h-1.85zM452.88 471.90h1.85v-12.10h-1.85zM454.81 471.90h1.85v-2.69h-1.85zM456.74 471.90h1.85v-2.69h-1.85zM458.67 471.90h1.85v-13.45h-1.85zM460.60 471.90h1.85v-9.41h-1.85zM462.53 471.90h1.85v-4.03h-1.85zM464.46 471.90h1.85v-6.72h-1.85zM466.39 471.90h1.85v-2.69h-1.85zM468.32 471.90h1.85v-2.69h-1.85zM470.25 471.90h1.85v-8.07h-1.85zM472.18 471.90h1.85v-8.07h-1.85zM474.11 471.90h1.85v-8.07h-1.85zM476.04 471.90h1.85v-4.03h-1.85zM477.97 471.90h1.85v-1.34h-1.85zM479.90 471.90h1.85v-2.69h-1.85zM481.83 471.90h1.85v-6.72h-1.85zM483.76 471.90h1.85v-5.38h-1.85zM485.70 471.90h1.85v-4.03h-1.85zM487.63 471.90h1.85v-2.69h-1.85zM489.56 471.90h1.85v-6.72h-1.85zM491.49 471.90h1.85v-6.72h-1.85zM493.42 471.90h1.85v-4.03h-1.85zM495.35 471.90h1.85v-4.03h-1.85zM497.28 471.90h1.85v-4.03h-1.85zM499.21 471.90h1.85v-4.03h-1.85zM501.14 471.90h1.85v-5.38h-1.85zM503.07 471.90h1.85v-4.03h-1.85z"/>
<polyline fill="none" stroke="#ff0000" stroke-width="5.3" stroke-linejoin="round" points="118.90,463.56 119.87,463.56 120.83,463.56 121.80,463.56 122.76,463.56 123.73,463.56 124.69,463.56 125.66,463.56 126.62,463.56 127.59,463.56 128.55,463.56 129.52,463.56 130.48,463.56 131.45,463.56 132.41,463.56 133.38,463.56 134.34,463.56 135.31,463.56 136.27,463.56 137.24,463.56 138.21,463.56 139.17,463.56 140.14,463.56 141.10,463.56 142.07,463.56 143.03,463.56 144.00,463.56 144.96,463.56 145.93,463.56 146.89,463.56 147.86,463.56 148.82,463.56 149.79,463.56 150.75,463.56 151.72,463.56 152.68,463.56 153.65,463.56 154.61,463.56 155.58,463.56 156.54,463.56 157.51,463.56 158.48,463.56 159.44,463.56 160.41,463.56 161.37,463.56 162.34,463.56 163.30,463.56 164.27,463.56 165.23,463.56 166.20,463.56 167.16,463.56 168.13,463.56 169.09,463.56 170.06,463.56 171.02,463.56 171.99,463.56 172.95,463.56 173.92,463.56 174.88,463.56 175.85,463.56 176.81,463.56 177.78,463.56 178.75,463.56 179.71,463.56 180.68,463.56 181.64,463.56 182.61,463.56 183.57,463.56 184.54,463.56 185.50,463.56 186.47,463.56 187.43,463.56 188.40,463.56 189.36,463.56 190.33,463.56 191.29,463.56 192.26,463.56 193.22,463.56 194.19,463.56 195.15,463.56 196.12,463.56 197.09,463.56 198.05,463.56 199.02,463.56 199.98,463.56 200.95,463.56 201.91,463.56 202.88,463.56 203.84,463.56 204.81,463.56 205.77,463.56 206.74,463.56 207.70,463.56 208.67,463.56 209.63,463.56 210.60,463.56 211.56,463.56 212.53,463.56 213.49,463.56 214.46,463.56 215.43,463.56 216.39,463.56 217.36,463.56 218.32,463.56 219.29,463.56 220.25,463.56 221.22,463.56 222.18,463.56 223.15,463.56 224.11,463.56 225.08,463.56 226.04,463.56 227.01,463.56 227.97,463.56 228.94,463.56 229.90,463.56 230.87,463.56 231.83,463.56 232.80,463.56 233.76,463.56 234.73,463.56 235.70,463.56 236.66,463.56 237.63,463.56 238.59,463.56 239.56,463.56 240.52,463.56 241.49,463.56 242.45,463.56 243.42,463.56 244.38,463.56 245.35,463.56 246.31,463.56 247.28,463.56 248.24,463.56 249.21,463.56 250.17,463.56 251.14,463.56 252.10,463.56 253.07,463.56 254.03,463.56 255.00,463.56 255.97,463.56 256.93,463.56 257.90,463.56 258.86,463.56 259.83,463.55 260.79,463.55 261.76,463.55 262.72,463.54 263.69,463.53 264.65,463.52 265.62,463.50 266.58,463.48 267.55,463.45 268.51,463.42 269.48,463.37 270.44,463.30 271.41,463.22 272.37,463.11 273.34,462.98 274.31,462.80 275.27,462.59 276.24,462.32 277.20,462.00 278.17,461.60 279.13,461.12 280.10,460.54 281.06,459.86 282.03,459.06 282.99,458.12 283.96,457.03 284.92,455.78 285.89,454.36 286.85,452.77 287.82,451.00 288.78,449.04 289.75,446.90 290.71,444.58 291.68,442.10 292.64,439.49 293.61,436.75 294.58,433.92 295.54,431.03 296.51,428.13 297.47,425.25 298.44,422.45 299.40,419.77 300.37,417.26 301.33,414.97 302.30,412.94 303.26,411.22 304.23,409.84 305.19,408.83 306.16,408.22 307.12,408.01 308.09,408.22 309.05,408.83 310.02,409.84 310.98,411.22 311.95,412.94 312.92,414.97 313.88,417.26 314.85,419.77 315.81,422.45 316.78,425.25 317.74,428.13 318.71,431.03 319.67,433.92 320.64,436.75 321.60,439.49 322.57,442.10 323.53,444.58 324.50,446.90 325.46,449.04 326.43,451.00 327.39,452.77 328.36,454.36 329.32,455.78 330.29,457.03 331.25,458.12 332.22,459.06 333.19,459.86 334.15,460.54 335.12,461.12 336.08,461.60 337.05,462.00 338.01,462.32 338.98,462.59 339.94,462.80 340.91,462.98 341.87,463.11 342.84,463.22 343.80,463.30 344.77,463.37 345.73,463.42 346.70,463.45 347.66,463.48 348.63,463.50 349.59,463.52 350.56,463.53 351.53,463.54 352.49,463.55 353.46,463.55 354.42,463.55 355.39,463.56 356.35,463.56 357.32,463.56 358.28,463.56 359.25,463.56 360.21,463.56 361.18,463.56 362.14,463.56 363.11,463.56 364.07,463.56 365.04,463.56 366.00,463.56 366.97,463.56 367.93,463.56 368.90,463.56 369.87,463.56 370.83,463.56 371.80,463.56 372.76,463.56 373.73,463.56 374.69,463.56 375.66,463.56 376.62,463.56 377.59,463.56 378.55,463.56 379.52,463.56 380.48,463.56 381.45,463.56 382.41,463.56 383.38,463.56 384.34,463.56 385.31,463.56 386.27,463.56 387.24,463.56 388.20,463.56 389.17,463.56 390.14,463.56 391.10,463.56 392.07,463.56 393.03,463.56 394.00,463.56 394.96,463.56 395.93,463.56 396.89,463.56 397.86,463.56 398.82,463.56 399.79,463.56 400.75,463.56 401.72,463.56 402.68,463.56 403.65,463.56 404.61,463.56 405.58,463.56 406.54,463.56 407.51,463.56 408.48,463.56 409.44,463.56 410.41,463.56 411.37,463.56 412.34,463.56 413.30,463.56 414.27,463.56 415.23,463.56 416.20,463.56 417.16,463.56 418.13,463.56 419.09,463.56 420.06,463.56 421.02,463.56 421.99,463.56 422.95,463.56 423.92,463.56 424.88,463.56 425.85,463.56 426.81,463.56 427.78,463.56 428.75,463.56 429.71,463.56 430.68,463.56 431.64,463.56 432.61,463.56 433.57,463.56 434.54,463.56 435.50,463.56 436.47,463.56 437.43,463.56 438.40,463.56 439.36,463.56 440.33,463.56 441.29,463.56 442.26,463.56 443.22,463.56 444.19,463.56 445.15,463.56 446.12,463.56 447.09,463.56 448.05,463.56 449.02,463.56 449.98,463.56 450.95,463.56 451.91,463.56 452.88,463.56 453.84,463.56 454.81,463.56 455.77,463.56 456.74,463.56 457.70,463.56 458.67,463.56 459.63,463.56 460.60,463.56 461.56,463.56 462.53,463.56 463.49,463.56 464.46,463.56 465.42,463.56 466.39,463.56 467.36,463.56 468.32,463.56 469.29,463.56 470.25,463.56 471.22,463.56 472.18,463.56 473.15,463.56 474.11,463.56 475.08,463.56 476.04,463.56 477.01,463.56 477.97,463.56 478.94,463.56 479.90,463.56 480.87,463.56 481.83,463.56 482.80,463.56 483.76,463.56 484.73,463.56 485.70,463.56 486.66,463.56 487.63,463.56 488.59,463.56 489.56,463.56 490.52,463.56 491.49,463.56 492.45,463.56 493.42,463.56 494.38,463.56 495.35,463.56 496.31,463.56 497.28,463.56 498.24,463.56 499.21,463.56 500.17,463.56 501.14,463.56 502.10,463.56 503.07,463.56 504.03,463.56 505.00,463.56"/>
<rect x="118.9" y="310.5" width="386.10" height="161.40" fill="none" stroke="#000" stroke-width="2.2"/>
<path stroke="#000" stroke-width="2.2" fill="none" d="M118.90 471.90h-12.5M118.90 451.72h-6.5M118.90 431.55h-12.5M118.90 411.38h-6.5M118.90 391.20h-12.5M118.90 371.02h-6.5M118.90 350.85h-12.5M118.90 330.68h-6.5M118.90 310.50h-12.5M118.90 471.90v12.5M167.16 471.90v6.5M215.43 471.90v12.5M263.69 471.90v6.5M311.95 471.90v12.5M360.21 471.90v6.5M408.48 471.90v12.5M456.74 471.90v6.5M505.00 471.90v12.5"/>
<text x="96.4" y="483.4" font-size="38" text-anchor="end">0</text>
<text x="96.4" y="443.0" font-size="38" text-anchor="end">30</text>
<text x="96.4" y="402.7" font-size="38" text-anchor="end">60</text>
<text x="96.4" y="362.4" font-size="38" text-anchor="end">90</text>
<text x="96.4" y="322.0" font-size="38" text-anchor="end">120</text>
<text x="118.9" y="522.9" font-size="38" text-anchor="middle">-1000</text>
<text x="215.4" y="522.9" font-size="38" text-anchor="middle">-500</text>
<text x="312.0" y="522.9" font-size="38" text-anchor="middle">0</text>
<text x="408.5" y="522.9" font-size="38" text-anchor="middle">500</text>
<text x="505.0" y="522.9" font-size="38" text-anchor="middle">1000</text>
<text x="129.1" y="337.1" font-size="30" font-weight="bold">(c)</text>
<text x="466.0" y="340.5" font-size="26.5" text-anchor="middle">MJD</text>
<text x="466.0" y="372.6" font-size="26.5" text-anchor="middle">59811</text>
<path fill="#6c966e" d="M697.90 471.90h1.85v-6.72h-1.85zM699.83 471.90h1.85v-5.38h-1.85zM703.69 471.90h1.85v-4.03h-1.85zM705.62 471.90h1.85v-4.03h-1.85zM707.55 471.90h1.85v-4.03h-1.85zM709.48 471.90h1.85v-1.34h-1.85zM711.41 471.90h1.85v-2.69h-1.85zM715.27 471.90h1.85v-9.41h-1.85zM717.19 471.90h1.85v-4.03h-1.85zM719.12 471.90h1.85v-2.69h-1.85zM721.05 471.90h1.85v-4.03h-1.85zM722.98 471.90h1.85v-4.03h-1.85zM724.91 471.90h1.85v-1.34h-1.85zM726.84 471.90h1.85v-5.38h-1.85zM728.77 471.90h1.85v-5.38h-1.85zM730.70 471.90h1.85v-4.03h-1.85zM732.63 471.90h1.85v-1.34h-1.85zM734.56 471.90h1.85v-1.34h-1.85zM736.49 471.90h1.85v-2.69h-1.85zM738.42 471.90h1.85v-4.03h-1.85zM742.28 471.90h1.85v-1.34h-1.85zM744.21 471.90h1.85v-5.38h-1.85zM746.14 471.90h1.85v-2.69h-1.85zM748.07 471.90h1.85v-2.69h-1.85zM750.00 471.90h1.85v-1.34h-1.85zM751.93 471.90h1.85v-2.69h-1.85zM753.86 471.90h1.85v-1.34h-1.85zM755.78 471.90h1.85v-1.34h-1.85zM759.64 471.90h1.85v-2.69h-1.85zM761.57 471.90h1.85v-2.69h-1.85zM763.50 471.90h1.85v-2.69h-1.85zM765.43 471.90h1.85v-2.69h-1.85zM767.36 471.90h1.85v-2.69h-1.85zM769.29 471.90h1.85v-4.03h-1.85zM771.22 471.90h1.85v-2.69h-1.85zM773.15 471.90h1.85v-1.34h-1.85zM775.08 471.90h1.85v-2.69h-1.85zM780.87 471.90h1.85v-2.69h-1.85zM782.80 471.90h1.85v-4.03h-1.85zM784.73 471.90h1.85v-1.34h-1.85zM788.59 471.90h1.85v-1.34h-1.85zM790.52 471.90h1.85v-1.34h-1.85zM792.45 471.90h1.85v-4.03h-1.85zM794.38 471.90h1.85v-2.69h-1.85zM796.30 471.90h1.85v-1.34h-1.85zM798.23 471.90h1.85v-1.34h-1.85zM800.16 471.90h1.85v-2.69h-1.85zM802.09 471.90h1.85v-4.03h-1.85zM804.02 471.90h1.85v-4.03h-1.85zM805.95 471.90h1.85v-6.72h-1.85zM809.81 471.90h1.85v-2.69h-1.85zM811.74 471.90h1.85v-6.72h-1.85zM813.67 471.90h1.85v-1.34h-1.85zM815.60 471.90h1.85v-2.69h-1.85zM817.53 471.90h1.85v-1.34h-1.85zM819.46 471.90h1.85v-1.34h-1.85zM821.39 471.90h1.85v-1.34h-1.85zM823.32 471.90h1.85v-1.34h-1.85zM825.25 471.90h1.85v-6.72h-1.85zM827.18 471.90h1.85v-4.03h-1.85zM831.04 471.90h1.85v-5.38h-1.85zM832.96 471.90h1.85v-4.03h-1.85zM834.89 471.90h1.85v-2.69h-1.85zM836.82 471.90h1.85v-2.69h-1.85zM838.75 471.90h1.85v-4.03h-1.85zM840.68 471.90h1.85v-2.69h-1.85zM844.54 471.90h1.85v-4.03h-1.85zM846.47 471.90h1.85v-4.03h-1.85zM850.33 471.90h1.85v-4.03h-1.85zM852.26 471.90h1.85v-4.03h-1.85zM854.19 471.90h1.85v-2.69h-1.85zM856.12 471.90h1.85v-8.07h-1.85zM858.05 471.90h1.85v-1.34h-1.85zM861.91 471.90h1.85v-6.72h-1.85zM863.84 471.90h1.85v-9.41h-1.85zM865.77 471.90h1.85v-12.10h-1.85zM867.70 471.90h1.85v-17.48h-1.85zM869.63 471.90h1.85v-17.48h-1.85zM871.55 471.90h1.85v-20.17h-1.85zM873.48 471.90h1.85v-32.28h-1.85zM875.41 471.90h1.85v-37.66h-1.85zM877.34 471.90h1.85v-75.32h-1.85zM879.27 471.90h1.85v-61.87h-1.85zM881.20 471.90h1.85v-65.90h-1.85zM883.13 471.90h1.85v-73.97h-1.85zM885.06 471.90h1.85v-98.18h-1.85zM886.99 471.90h1.85v-117.01h-1.85zM888.92 471.90h1.85v-125.08h-1.85zM890.85 471.90h1.85v-108.94h-1.85zM892.78 471.90h1.85v-107.60h-1.85zM894.71 471.90h1.85v-106.25h-1.85zM896.64 471.90h1.85v-126.43h-1.85zM898.57 471.90h1.85v-76.66h-1.85zM900.50 471.90h1.85v-68.59h-1.85zM902.43 471.90h1.85v-55.14h-1.85zM904.36 471.90h1.85v-51.11h-1.85zM906.29 471.90h1.85v-45.73h-1.85zM908.22 471.90h1.85v-29.59h-1.85zM910.14 471.90h1.85v-24.21h-1.85zM912.07 471.90h1.85v-14.79h-1.85zM914.00 471.90h1.85v-16.14h-1.85zM915.93 471.90h1.85v-4.03h-1.85zM917.86 471.90h1.85v-9.41h-1.85zM919.79 471.90h1.85v-8.07h-1.85zM921.72 471.90h1.85v-4.03h-1.85zM923.65 471.90h1.85v-2.69h-1.85zM925.58 471.90h1.85v-8.07h-1.85zM927.51 471.90h1.85v-1.34h-1.85zM929.44 471.90h1.85v-1.34h-1.85zM931.37 471.90h1.85v-1.34h-1.85zM933.30 471.90h1.85v-4.03h-1.85zM935.23 471.90h1.85v-4.03h-1.85zM937.16 471.90h1.85v-4.03h-1.85zM939.09 471.90h1.85v-2.69h-1.85zM941.02 471.90h1.85v-2.69h-1.85zM942.95 471.90h1.85v-4.03h-1.85zM944.88 471.90h1.85v-2.69h-1.85zM946.81 471.90h1.85v-1.34h-1.85zM948.74 471.90h1.85v-4.03h-1.85zM950.66 471.90h1.85v-2.69h-1.85zM952.59 471.90h1.85v-4.03h-1.85zM954.52 471.90h1.85v-2.69h-1.85zM956.45 471.90h1.85v-5.38h-1.85zM958.38 471.90h1.85v-5.38h-1.85zM960.31 471.90h1.85v-1.34h-1.85zM962.24 471.90h1.85v-2.69h-1.85zM964.17 471.90h1.85v-1.34h-1.85zM966.10 471.90h1.85v-2.69h-1.85zM969.96 471.90h1.85v-1.34h-1.85zM975.75 471.90h1.85v-2.69h-1.85zM977.68 471.90h1.85v-4.03h-1.85zM979.61 471.90h1.85v-5.38h-1.85zM981.54 471.90h1.85v-4.03h-1.85zM983.47 471.90h1.85v-1.34h-1.85zM985.40 471.90h1.85v-2.69h-1.85zM989.25 471.90h1.85v-5.38h-1.85zM991.18 471.90h1.85v-2.69h-1.85zM993.11 471.90h1.85v-4.03h-1.85zM995.04 471.90h1.85v-5.38h-1.85zM996.97 471.90h1.85v-1.34h-1.85zM998.90 471.90h1.85v-5.38h-1.85zM1000.83 471.90h1.85v-2.69h-1.85zM1002.76 471.90h1.85v-2.69h-1.85zM1004.69 471.90h1.85v-12.10h-1.85zM1006.62 471.90h1.85v-2.69h-1.85zM1008.55 471.90h1.85v-2.69h-1.85zM1012.41 471.90h1.85v-4.03h-1.85zM1014.34 471.90h1.85v-5.38h-1.85zM1016.27 471.90h1.85v-2.69h-1.85zM1018.20 471.90h1.85v-4.03h-1.85zM1020.13 471.90h1.85v-5.38h-1.85zM1023.99 471.90h1.85v-1.34h-1.85zM1025.91 471.90h1.85v-4.03h-1.85zM1027.84 471.90h1.85v-5.38h-1.85zM1033.63 471.90h1.85v-1.34h-1.85zM1035.56 471.90h1.85v-2.69h-1.85zM1037.49 471.90h1.85v-6.72h-1.85zM1039.42 471.90h1.85v-2.69h-1.85zM1041.35 471.90h1.85v-4.03h-1.85zM1043.28 471.90h1.85v-4.03h-1.85zM1045.21 471.90h1.85v-1.34h-1.85zM1047.14 471.90h1.85v-6.72h-1.85zM1049.07 471.90h1.85v-1.34h-1.85zM1051.00 471.90h1.85v-2.69h-1.85zM1052.93 471.90h1.85v-1.34h-1.85zM1054.86 471.90h1.85v-1.34h-1.85zM1056.79 471.90h1.85v-4.03h-1.85zM1058.72 471.90h1.85v-2.69h-1.85zM1062.58 471.90h1.85v-2.69h-1.85zM1064.51 471.90h1.85v-5.38h-1.85zM1066.43 471.90h1.85v-6.72h-1.85zM1068.36 471.90h1.85v-2.69h-1.85zM1070.29 471.90h1.85v-6.72h-1.85zM1072.22 471.90h1.85v-8.07h-1.85zM1074.15 471.90h1.85v-9.41h-1.85zM1076.08 471.90h1.85v-2.69h-1.85zM1078.01 471.90h1.85v-1.34h-1.85zM1079.94 471.90h1.85v-1.34h-1.85zM1081.87 471.90h1.85v-5.38h-1.85z"/>
<polyline fill="none" stroke="#ff0000" stroke-width="5.3" stroke-linejoin="round" points="697.90,468.94 698.86,468.94 699.83,468.94 700.79,468.94 701.76,468.94 702.72,468.94 703.69,468.94 704.65,468.94 705.62,468.94 706.58,468.94 707.55,468.94 708.51,468.94 709.48,468.94 710.44,468.94 711.41,468.94 712.37,468.94 713.34,468.94 714.30,468.94 715.27,468.94 716.23,468.94 717.19,468.94 718.16,468.94 719.12,468.94 720.09,468.94 721.05,468.94 722.02,468.94 722.98,468.94 723.95,468.94 724.91,468.94 725.88,468.94 726.84,468.94 727.81,468.94 728.77,468.94 729.74,468.94 730.70,468.94 731.67,468.94 732.63,468.94 733.60,468.94 734.56,468.94 735.53,468.94 736.49,468.94 737.45,468.94 738.42,468.94 739.38,468.94 740.35,468.94 741.31,468.94 742.28,468.94 743.24,468.94 744.21,468.94 745.17,468.94 746.14,468.94 747.10,468.94 748.07,468.94 749.03,468.94 750.00,468.94 750.96,468.94 751.93,468.94 752.89,468.94 753.86,468.94 754.82,468.94 755.78,468.94 756.75,468.94 757.71,468.94 758.68,468.94 759.64,468.94 760.61,468.94 761.57,468.94 762.54,468.94 763.50,468.94 764.47,468.94 765.43,468.94 766.40,468.94 767.36,468.94 768.33,468.94 769.29,468.94 770.26,468.94 771.22,468.94 772.19,468.94 773.15,468.94 774.12,468.94 775.08,468.94 776.04,468.94 777.01,468.94 777.97,468.94 778.94,468.94 779.90,468.94 780.87,468.94 781.83,468.94 782.80,468.94 783.76,468.94 784.73,468.94 785.69,468.94 786.66,468.94 787.62,468.94 788.59,468.94 789.55,468.94 790.52,468.94 791.48,468.94 792.45,468.94 793.41,468.94 794.38,468.94 795.34,468.94 796.30,468.94 797.27,468.94 798.23,468.94 799.20,468.94 800.16,468.94 801.13,468.94 802.09,468.94 803.06,468.94 804.02,468.94 804.99,468.94 805.95,468.94 806.92,468.94 807.88,468.94 808.85,468.94 809.81,468.94 810.78,468.94 811.74,468.94 812.71,468.94 813.67,468.94 814.63,468.94 815.60,468.94 816.56,468.94 817.53,468.94 818.49,468.94 819.46,468.94 820.42,468.94 821.39,468.94 822.35,468.94 823.32,468.94 824.28,468.94 825.25,468.94 826.21,468.94 827.18,468.94 828.14,468.94 829.11,468.94 830.07,468.94 831.04,468.94 832.00,468.94 832.96,468.94 833.93,468.94 834.89,468.94 835.86,468.94 836.82,468.94 837.79,468.94 838.75,468.94 839.72,468.94 840.68,468.94 841.65,468.94 842.61,468.94 843.58,468.94 844.54,468.94 845.51,468.94 846.47,468.93 847.44,468.93 848.40,468.92 849.37,468.92 850.33,468.91 851.30,468.89 852.26,468.87 853.22,468.84 854.19,468.80 855.15,468.74 856.12,468.66 857.08,468.56 858.05,468.42 859.01,468.23 859.98,468.00 860.94,467.69 861.91,467.29 862.87,466.79 863.84,466.17 864.80,465.39 865.77,464.42 866.73,463.25 867.70,461.84 868.66,460.15 869.63,458.15 870.59,455.81 871.55,453.10 872.52,449.99 873.48,446.46 874.45,442.51 875.41,438.12 876.38,433.32 877.34,428.11 878.31,422.55 879.27,416.68 880.24,410.57 881.20,404.30 882.17,397.96 883.13,391.68 884.10,385.55 885.06,379.71 886.03,374.27 886.99,369.36 887.96,365.08 888.92,361.55 889.89,358.85 890.85,357.04 891.81,356.17 892.78,356.27 893.74,357.33 894.71,359.32 895.67,362.19 896.64,365.88 897.60,370.29 898.57,375.32 899.53,380.85 900.50,386.76 901.46,392.92 902.43,399.23 903.39,405.56 904.36,411.80 905.32,417.87 906.29,423.69 907.25,429.18 908.22,434.31 909.18,439.03 910.14,443.33 911.11,447.20 912.07,450.64 913.04,453.67 914.00,456.31 914.97,458.58 915.93,460.51 916.90,462.14 917.86,463.51 918.83,464.63 919.79,465.55 920.76,466.30 921.72,466.90 922.69,467.38 923.65,467.76 924.62,468.05 925.58,468.27 926.55,468.45 927.51,468.58 928.48,468.68 929.44,468.75 930.40,468.81 931.37,468.84 932.33,468.87 933.30,468.89 934.26,468.91 935.23,468.92 936.19,468.93 937.16,468.93 938.12,468.93 939.09,468.94 940.05,468.94 941.02,468.94 941.98,468.94 942.95,468.94 943.91,468.94 944.88,468.94 945.84,468.94 946.81,468.94 947.77,468.94 948.73,468.94 949.70,468.94 950.66,468.94 951.63,468.94 952.59,468.94 953.56,468.94 954.52,468.94 955.49,468.94 956.45,468.94 957.42,468.94 958.38,468.94 959.35,468.94 960.31,468.94 961.28,468.94 962.24,468.94 963.21,468.94 964.17,468.94 965.14,468.94 966.10,468.94 967.07,468.94 968.03,468.94 968.99,468.94 969.96,468.94 970.92,468.94 971.89,468.94 972.85,468.94 973.82,468.94 974.78,468.94 975.75,468.94 976.71,468.94 977.68,468.94 978.64,468.94 979.61,468.94 980.57,468.94 981.54,468.94 982.50,468.94 983.47,468.94 984.43,468.94 985.40,468.94 986.36,468.94 987.32,468.94 988.29,468.94 989.25,468.94 990.22,468.94 991.18,468.94 992.15,468.94 993.11,468.94 994.08,468.94 995.04,468.94 996.01,468.94 996.97,468.94 997.94,468.94 998.90,468.94 999.87,468.94 1000.83,468.94 1001.80,468.94 1002.76,468.94 1003.73,468.94 1004.69,468.94 1005.66,468.94 1006.62,468.94 1007.58,468.94 1008.55,468.94 1009.51,468.94 1010.48,468.94 1011.44,468.94 1012.41,468.94 1013.37,468.94 1014.34,468.94 1015.30,468.94 1016.27,468.94 1017.23,468.94 1018.20,468.94 1019.16,468.94 1020.13,468.94 1021.09,468.94 1022.06,468.94 1023.02,468.94 1023.99,468.94 1024.95,468.94 1025.91,468.94 1026.88,468.94 1027.84,468.94 1028.81,468.94 1029.77,468.94 1030.74,468.94 1031.70,468.94 1032.67,468.94 1033.63,468.94 1034.60,468.94 1035.56,468.94 1036.53,468.94 1037.49,468.94 1038.46,468.94 1039.42,468.94 1040.39,468.94 1041.35,468.94 1042.32,468.94 1043.28,468.94 1044.25,468.94 1045.21,468.94 1046.17,468.94 1047.14,468.94 1048.10,468.94 1049.07,468.94 1050.03,468.94 1051.00,468.94 1051.96,468.94 1052.93,468.94 1053.89,468.94 1054.86,468.94 1055.82,468.94 1056.79,468.94 1057.75,468.94 1058.72,468.94 1059.68,468.94 1060.65,468.94 1061.61,468.94 1062.58,468.94 1063.54,468.94 1064.50,468.94 1065.47,468.94 1066.43,468.94 1067.40,468.94 1068.36,468.94 1069.33,468.94 1070.29,468.94 1071.26,468.94 1072.22,468.94 1073.19,468.94 1074.15,468.94 1075.12,468.94 1076.08,468.94 1077.05,468.94 1078.01,468.94 1078.98,468.94 1079.94,468.94 1080.91,468.94 1081.87,468.94 1082.84,468.94 1083.80,468.94"/>
<rect x="697.9" y="310.5" width="385.90" height="161.40" fill="none" stroke="#000" stroke-width="2.2"/>
<path stroke="#000" stroke-width="2.2" fill="none" d="M697.90 471.90h-12.5M697.90 451.72h-6.5M697.90 431.55h-12.5M697.90 411.38h-6.5M697.90 391.20h-12.5M697.90 371.02h-6.5M697.90 350.85h-12.5M697.90 330.68h-6.5M697.90 310.50h-12.5M697.90 471.90v12.5M746.14 471.90v6.5M794.38 471.90v12.5M842.61 471.90v6.5M890.85 471.90v12.5M939.09 471.90v6.5M987.32 471.90v12.5M1035.56 471.90v6.5M1083.80 471.90v12.5"/>
<text x="676.9" y="483.4" font-size="38" text-anchor="end">0</text>
<text x="676.9" y="443.0" font-size="38" text-anchor="end">30</text>
<text x="676.9" y="402.7" font-size="38" text-anchor="end">60</text>
<text x="676.9" y="362.4" font-size="38" text-anchor="end">90</text>
<text x="676.9" y="322.0" font-size="38" text-anchor="end">120</text>
<text x="697.9" y="522.9" font-size="38" text-anchor="middle">-1000</text>
<text x="794.4" y="522.9" font-size="38" text-anchor="middle">-500</text>
<text x="890.8" y="522.9" font-size="38" text-anchor="middle">0</text>
<text x="987.3" y="522.9" font-size="38" text-anchor="middle">500</text>
<text x="1083.8" y="522.9" font-size="38" text-anchor="middle">1000</text>
<text x="715.5" y="337.1" font-size="30" font-weight="bold">(d)</text>
<path fill="#806c9a" d="M118.90 724.00h1.85v-13.49h-1.85zM120.83 724.00h1.85v-14.84h-1.85zM122.76 724.00h1.85v-14.84h-1.85zM124.69 724.00h1.85v-6.75h-1.85zM126.62 724.00h1.85v-9.44h-1.85zM128.55 724.00h1.85v-21.59h-1.85zM130.48 724.00h1.85v-9.44h-1.85zM132.41 724.00h1.85v-10.79h-1.85zM134.34 724.00h1.85v-21.59h-1.85zM136.27 724.00h1.85v-10.79h-1.85zM138.21 724.00h1.85v-17.54h-1.85zM140.14 724.00h1.85v-16.19h-1.85zM142.07 724.00h1.85v-14.84h-1.85zM144.00 724.00h1.85v-14.84h-1.85zM145.93 724.00h1.85v-14.84h-1.85zM147.86 724.00h1.85v-13.49h-1.85zM149.79 724.00h1.85v-18.89h-1.85zM151.72 724.00h1.85v-22.94h-1.85zM153.65 724.00h1.85v-12.14h-1.85zM155.58 724.00h1.85v-14.84h-1.85zM157.51 724.00h1.85v-17.54h-1.85zM159.44 724.00h1.85v-13.49h-1.85zM161.37 724.00h1.85v-14.84h-1.85zM163.30 724.00h1.85v-13.49h-1.85zM165.23 724.00h1.85v-10.79h-1.85zM167.16 724.00h1.85v-20.24h-1.85zM169.09 724.00h1.85v-9.44h-1.85zM171.02 724.00h1.85v-9.44h-1.85zM172.95 724.00h1.85v-13.49h-1.85zM174.88 724.00h1.85v-12.14h-1.85zM176.81 724.00h1.85v-9.44h-1.85zM178.75 724.00h1.85v-8.09h-1.85zM180.68 724.00h1.85v-4.05h-1.85zM182.61 724.00h1.85v-25.63h-1.85zM184.54 724.00h1.85v-9.44h-1.85zM186.47 724.00h1.85v-9.44h-1.85zM188.40 724.00h1.85v-18.89h-1.85zM190.33 724.00h1.85v-20.24h-1.85zM192.26 724.00h1.85v-20.24h-1.85zM194.19 724.00h1.85v-13.49h-1.85zM196.12 724.00h1.85v-16.19h-1.85zM198.05 724.00h1.85v-20.24h-1.85zM199.98 724.00h1.85v-14.84h-1.85zM201.91 724.00h1.85v-10.79h-1.85zM203.84 724.00h1.85v-18.89h-1.85zM205.77 724.00h1.85v-13.49h-1.85zM207.70 724.00h1.85v-10.79h-1.85zM209.63 724.00h1.85v-20.24h-1.85zM211.56 724.00h1.85v-21.59h-1.85zM213.49 724.00h1.85v-18.89h-1.85zM215.43 724.00h1.85v-21.59h-1.85zM217.36 724.00h1.85v-13.49h-1.85zM219.29 724.00h1.85v-40.47h-1.85zM221.22 724.00h1.85v-13.49h-1.85zM223.15 724.00h1.85v-17.54h-1.85zM225.08 724.00h1.85v-20.24h-1.85zM227.01 724.00h1.85v-25.63h-1.85zM228.94 724.00h1.85v-12.14h-1.85zM230.87 724.00h1.85v-17.54h-1.85zM232.80 724.00h1.85v-26.98h-1.85zM234.73 724.00h1.85v-12.14h-1.85zM236.66 724.00h1.85v-16.19h-1.85zM238.59 724.00h1.85v-21.59h-1.85zM240.52 724.00h1.85v-9.44h-1.85zM242.45 724.00h1.85v-17.54h-1.85zM244.38 724.00h1.85v-21.59h-1.85zM246.31 724.00h1.85v-22.94h-1.85zM248.24 724.00h1.85v-14.84h-1.85zM250.17 724.00h1.85v-18.89h-1.85zM252.10 724.00h1.85v-24.28h-1.85zM254.04 724.00h1.85v-20.24h-1.85zM255.97 724.00h1.85v-25.63h-1.85zM257.90 724.00h1.85v-21.59h-1.85zM259.83 724.00h1.85v-18.89h-1.85zM261.76 724.00h1.85v-24.28h-1.85zM263.69 724.00h1.85v-32.38h-1.85zM265.62 724.00h1.85v-26.98h-1.85zM267.55 724.00h1.85v-16.19h-1.85zM269.48 724.00h1.85v-20.24h-1.85zM271.41 724.00h1.85v-31.03h-1.85zM273.34 724.00h1.85v-43.17h-1.85zM275.27 724.00h1.85v-76.90h-1.85zM277.20 724.00h1.85v-55.32h-1.85zM279.13 724.00h1.85v-79.60h-1.85zM281.06 724.00h1.85v-87.70h-1.85zM282.99 724.00h1.85v-68.81h-1.85zM284.92 724.00h1.85v-94.44h-1.85zM286.85 724.00h1.85v-110.63h-1.85zM288.78 724.00h1.85v-125.47h-1.85zM290.71 724.00h1.85v-113.33h-1.85zM292.64 724.00h1.85v-118.73h-1.85zM294.58 724.00h1.85v-89.04h-1.85zM296.51 724.00h1.85v-101.19h-1.85zM298.44 724.00h1.85v-95.79h-1.85zM300.37 724.00h1.85v-76.90h-1.85zM302.30 724.00h1.85v-71.51h-1.85zM304.23 724.00h1.85v-63.41h-1.85zM306.16 724.00h1.85v-58.01h-1.85zM308.09 724.00h1.85v-63.41h-1.85zM310.02 724.00h1.85v-37.78h-1.85zM311.95 724.00h1.85v-31.03h-1.85zM313.88 724.00h1.85v-37.78h-1.85zM315.81 724.00h1.85v-28.33h-1.85zM317.74 724.00h1.85v-13.49h-1.85zM319.67 724.00h1.85v-20.24h-1.85zM321.60 724.00h1.85v-13.49h-1.85zM323.53 724.00h1.85v-16.19h-1.85zM325.46 724.00h1.85v-10.79h-1.85zM327.39 724.00h1.85v-10.79h-1.85zM329.32 724.00h1.85v-5.40h-1.85zM331.25 724.00h1.85v-6.75h-1.85zM333.19 724.00h1.85v-6.75h-1.85zM335.12 724.00h1.85v-10.79h-1.85zM337.05 724.00h1.85v-10.79h-1.85zM338.98 724.00h1.85v-9.44h-1.85zM340.91 724.00h1.85v-10.79h-1.85zM342.84 724.00h1.85v-10.79h-1.85zM344.77 724.00h1.85v-13.49h-1.85zM346.70 724.00h1.85v-14.84h-1.85zM348.63 724.00h1.85v-8.09h-1.85zM350.56 724.00h1.85v-8.09h-1.85zM352.49 724.00h1.85v-6.75h-1.85zM354.42 724.00h1.85v-8.09h-1.85zM356.35 724.00h1.85v-4.05h-1.85zM358.28 724.00h1.85v-2.70h-1.85zM360.21 724.00h1.85v-6.75h-1.85zM362.14 724.00h1.85v-2.70h-1.85zM364.07 724.00h1.85v-12.14h-1.85zM366.00 724.00h1.85v-1.35h-1.85zM367.93 724.00h1.85v-2.70h-1.85zM369.87 724.00h1.85v-12.14h-1.85zM371.80 724.00h1.85v-6.75h-1.85zM373.73 724.00h1.85v-16.19h-1.85zM375.66 724.00h1.85v-6.75h-1.85zM377.59 724.00h1.85v-10.79h-1.85zM379.52 724.00h1.85v-9.44h-1.85zM381.45 724.00h1.85v-8.09h-1.85zM383.38 724.00h1.85v-9.44h-1.85zM385.31 724.00h1.85v-2.70h-1.85zM387.24 724.00h1.85v-12.14h-1.85zM389.17 724.00h1.85v-12.14h-1.85zM391.10 724.00h1.85v-5.40h-1.85zM393.03 724.00h1.85v-9.44h-1.85zM394.96 724.00h1.85v-8.09h-1.85zM396.89 724.00h1.85v-10.79h-1.85zM398.82 724.00h1.85v-10.79h-1.85zM400.75 724.00h1.85v-8.09h-1.85zM402.68 724.00h1.85v-9.44h-1.85zM404.61 724.00h1.85v-9.44h-1.85zM406.54 724.00h1.85v-9.44h-1.85zM408.48 724.00h1.85v-5.40h-1.85zM410.41 724.00h1.85v-9.44h-1.85zM412.34 724.00h1.85v-5.40h-1.85zM414.27 724.00h1.85v-5.40h-1.85zM416.20 724.00h1.85v-10.79h-1.85zM418.13 724.00h1.85v-6.75h-1.85zM420.06 724.00h1.85v-8.09h-1.85zM421.99 724.00h1.85v-8.09h-1.85zM423.92 724.00h1.85v-22.94h-1.85zM425.85 724.00h1.85v-16.19h-1.85zM427.78 724.00h1.85v-12.14h-1.85zM429.71 724.00h1.85v-8.09h-1.85zM431.64 724.00h1.85v-6.75h-1.85zM433.57 724.00h1.85v-18.89h-1.85zM435.50 724.00h1.85v-9.44h-1.85zM437.43 724.00h1.85v-9.44h-1.85zM439.36 724.00h1.85v-16.19h-1.85zM441.29 724.00h1.85v-1.35h-1.85zM443.22 724.00h1.85v-9.44h-1.85zM445.15 724.00h1.85v-12.14h-1.85zM447.09 724.00h1.85v-13.49h-1.85zM449.02 724.00h1.85v-13.49h-1.85zM450.95 724.00h1.85v-9.44h-1.85zM452.88 724.00h1.85v-4.05h-1.85zM454.81 724.00h1.85v-17.54h-1.85zM456.74 724.00h1.85v-13.49h-1.85zM458.67 724.00h1.85v-2.70h-1.85zM460.60 724.00h1.85v-9.44h-1.85zM462.53 724.00h1.85v-9.44h-1.85zM464.46 724.00h1.85v-6.75h-1.85zM466.39 724.00h1.85v-9.44h-1.85zM468.32 724.00h1.85v-12.14h-1.85zM470.25 724.00h1.85v-12.14h-1.85zM472.18 724.00h1.85v-12.14h-1.85zM474.11 724.00h1.85v-10.79h-1.85zM476.04 724.00h1.85v-9.44h-1.85zM477.97 724.00h1.85v-10.79h-1.85zM479.90 724.00h1.85v-9.44h-1.85zM481.83 724.00h1.85v-13.49h-1.85zM483.76 724.00h1.85v-9.44h-1.85zM485.70 724.00h1.85v-4.05h-1.85zM487.63 724.00h1.85v-8.09h-1.85zM489.56 724.00h1.85v-6.75h-1.85zM491.49 724.00h1.85v-12.14h-1.85zM493.42 724.00h1.85v-9.44h-1.85zM495.35 724.00h1.85v-17.54h-1.85zM497.28 724.00h1.85v-12.14h-1.85zM499.21 724.00h1.85v-6.75h-1.85zM501.14 724.00h1.85v-6.75h-1.85zM503.07 724.00h1.85v-10.79h-1.85z"/>
<polyline fill="none" stroke="#ff0000" stroke-width="5.3" stroke-linejoin="round" points="118.90,711.05 119.87,711.05 120.83,711.05 121.80,711.05 122.76,711.05 123.73,711.05 124.69,711.05 125.66,711.05 126.62,711.05 127.59,711.05 128.55,711.05 129.52,711.05 130.48,711.05 131.45,711.05 132.41,711.05 133.38,711.05 134.34,711.05 135.31,711.05 136.27,711.05 137.24,711.05 138.21,711.05 139.17,711.05 140.14,711.05 141.10,711.05 142.07,711.05 143.03,711.05 144.00,711.05 144.96,711.05 145.93,711.05 146.89,711.05 147.86,711.05 148.82,711.05 149.79,711.05 150.75,711.05 151.72,711.05 152.68,711.05 153.65,711.05 154.61,711.05 155.58,711.05 156.54,711.05 157.51,711.05 158.48,711.05 159.44,711.05 160.41,711.05 161.37,711.05 162.34,711.05 163.30,711.05 164.27,711.05 165.23,711.05 166.20,711.05 167.16,711.05 168.13,711.05 169.09,711.05 170.06,711.05 171.02,711.05 171.99,711.05 172.95,711.05 173.92,711.05 174.88,711.05 175.85,711.05 176.81,711.05 177.78,711.05 178.75,711.05 179.71,711.05 180.68,711.05 181.64,711.05 182.61,711.05 183.57,711.05 184.54,711.05 185.50,711.05 186.47,711.05 187.43,711.05 188.40,711.05 189.36,711.05 190.33,711.05 191.29,711.05 192.26,711.05 193.22,711.05 194.19,711.05 195.15,711.05 196.12,711.05 197.09,711.05 198.05,711.05 199.02,711.05 199.98,711.05 200.95,711.05 201.91,711.05 202.88,711.05 203.84,711.05 204.81,711.05 205.77,711.05 206.74,711.05 207.70,711.05 208.67,711.05 209.63,711.05 210.60,711.05 211.56,711.05 212.53,711.05 213.49,711.05 214.46,711.05 215.43,711.05 216.39,711.05 217.36,711.05 218.32,711.05 219.29,711.05 220.25,711.05 221.22,711.05 222.18,711.05 223.15,711.05 224.11,711.05 225.08,711.05 226.04,711.05 227.01,711.05 227.97,711.05 228.94,711.05 229.90,711.05 230.87,711.05 231.83,711.05 232.80,711.05 233.76,711.05 234.73,711.05 235.70,711.05 236.66,711.05 237.63,711.05 238.59,711.05 239.56,711.04 240.52,711.04 241.49,711.04 242.45,711.04 243.42,711.04 244.38,711.03 245.35,711.02 246.31,711.01 247.28,711.00 248.24,710.98 249.21,710.96 250.17,710.93 251.14,710.88 252.10,710.83 253.07,710.76 254.03,710.66 255.00,710.55 255.97,710.39 256.93,710.20 257.90,709.96 258.86,709.67 259.83,709.30 260.79,708.85 261.76,708.30 262.72,707.64 263.69,706.85 264.65,705.91 265.62,704.80 266.58,703.50 267.55,701.99 268.51,700.26 269.48,698.27 270.44,696.03 271.41,693.51 272.37,690.70 273.34,687.60 274.31,684.21 275.27,680.54 276.24,676.59 277.20,672.40 278.17,667.98 279.13,663.38 280.10,658.64 281.06,653.82 282.03,648.98 282.99,644.17 283.96,639.48 284.92,634.96 285.89,630.71 286.85,626.78 287.82,623.26 288.78,620.20 289.75,617.66 290.71,615.69 291.68,614.34 292.64,613.62 293.61,613.56 294.58,614.14 295.54,615.37 296.51,617.22 297.47,619.65 298.44,622.61 299.40,626.04 300.37,629.89 301.33,634.09 302.30,638.56 303.26,643.22 304.23,648.01 305.19,652.85 306.16,657.69 307.12,662.44 308.09,667.07 309.05,671.53 310.02,675.77 310.98,679.77 311.95,683.50 312.92,686.95 313.88,690.10 314.85,692.97 315.81,695.55 316.78,697.85 317.74,699.88 318.71,701.66 319.67,703.22 320.64,704.55 321.60,705.70 322.57,706.67 323.53,707.49 324.50,708.18 325.46,708.75 326.43,709.22 327.39,709.60 328.36,709.91 329.32,710.16 330.29,710.36 331.25,710.52 332.22,710.64 333.19,710.74 334.15,710.82 335.12,710.87 336.08,710.92 337.05,710.95 338.01,710.98 338.98,711.00 339.94,711.01 340.91,711.02 341.87,711.03 342.84,711.03 343.80,711.04 344.77,711.04 345.73,711.04 346.70,711.04 347.66,711.05 348.63,711.05 349.59,711.05 350.56,711.05 351.53,711.05 352.49,711.05 353.46,711.05 354.42,711.05 355.39,711.05 356.35,711.05 357.32,711.05 358.28,711.05 359.25,711.05 360.21,711.05 361.18,711.05 362.14,711.05 363.11,711.05 364.07,711.05 365.04,711.05 366.00,711.05 366.97,711.05 367.93,711.05 368.90,711.05 369.87,711.05 370.83,711.05 371.80,711.05 372.76,711.05 373.73,711.05 374.69,711.05 375.66,711.05 376.62,711.05 377.59,711.05 378.55,711.05 379.52,711.05 380.48,711.05 381.45,711.05 382.41,711.05 383.38,711.05 384.34,711.05 385.31,711.05 386.27,711.05 387.24,711.05 388.20,711.05 389.17,711.05 390.14,711.05 391.10,711.05 392.07,711.05 393.03,711.05 394.00,711.05 394.96,711.05 395.93,711.05 396.89,711.05 397.86,711.05 398.82,711.05 399.79,711.05 400.75,711.05 401.72,711.05 402.68,711.05 403.65,711.05 404.61,711.05 405.58,711.05 406.54,711.05 407.51,711.05 408.48,711.05 409.44,711.05 410.41,711.05 411.37,711.05 412.34,711.05 413.30,711.05 414.27,711.05 415.23,711.05 416.20,711.05 417.16,711.05 418.13,711.05 419.09,711.05 420.06,711.05 421.02,711.05 421.99,711.05 422.95,711.05 423.92,711.05 424.88,711.05 425.85,711.05 426.81,711.05 427.78,711.05 428.75,711.05 429.71,711.05 430.68,711.05 431.64,711.05 432.61,711.05 433.57,711.05 434.54,711.05 435.50,711.05 436.47,711.05 437.43,711.05 438.40,711.05 439.36,711.05 440.33,711.05 441.29,711.05 442.26,711.05 443.22,711.05 444.19,711.05 445.15,711.05 446.12,711.05 447.09,711.05 448.05,711.05 449.02,711.05 449.98,711.05 450.95,711.05 451.91,711.05 452.88,711.05 453.84,711.05 454.81,711.05 455.77,711.05 456.74,711.05 457.70,711.05 458.67,711.05 459.63,711.05 460.60,711.05 461.56,711.05 462.53,711.05 463.49,711.05 464.46,711.05 465.42,711.05 466.39,711.05 467.36,711.05 468.32,711.05 469.29,711.05 470.25,711.05 471.22,711.05 472.18,711.05 473.15,711.05 474.11,711.05 475.08,711.05 476.04,711.05 477.01,711.05 477.97,711.05 478.94,711.05 479.90,711.05 480.87,711.05 481.83,711.05 482.80,711.05 483.76,711.05 484.73,711.05 485.70,711.05 486.66,711.05 487.63,711.05 488.59,711.05 489.56,711.05 490.52,711.05 491.49,711.05 492.45,711.05 493.42,711.05 494.38,711.05 495.35,711.05 496.31,711.05 497.28,711.05 498.24,711.05 499.21,711.05 500.17,711.05 501.14,711.05 502.10,711.05 503.07,711.05 504.03,711.05 505.00,711.05"/>
<rect x="118.9" y="562.1" width="386.10" height="161.90" fill="none" stroke="#000" stroke-width="2.2"/>
<path stroke="#000" stroke-width="2.2" fill="none" d="M118.90 724.00h-12.5M118.90 703.76h-6.5M118.90 683.52h-12.5M118.90 663.29h-6.5M118.90 643.05h-12.5M118.90 622.81h-6.5M118.90 602.58h-12.5M118.90 582.34h-6.5M118.90 562.10h-12.5M118.90 724.00v12.5M167.16 724.00v6.5M215.43 724.00v12.5M263.69 724.00v6.5M311.95 724.00v12.5M360.21 724.00v6.5M408.48 724.00v12.5M456.74 724.00v6.5M505.00 724.00v12.5"/>
<text x="96.4" y="735.5" font-size="38" text-anchor="end">0</text>
<text x="96.4" y="695.0" font-size="38" text-anchor="end">30</text>
<text x="96.4" y="654.5" font-size="38" text-anchor="end">60</text>
<text x="96.4" y="614.1" font-size="38" text-anchor="end">90</text>
<text x="96.4" y="573.6" font-size="38" text-anchor="end">120</text>
<text x="118.9" y="774.0" font-size="38" text-anchor="middle">-1000</text>
<text x="215.4" y="774.0" font-size="38" text-anchor="middle">-500</text>
<text x="312.0" y="774.0" font-size="38" text-anchor="middle">0</text>
<text x="408.5" y="774.0" font-size="38" text-anchor="middle">500</text>
<text x="505.0" y="774.0" font-size="38" text-anchor="middle">1000</text>
<text x="127.3" y="590.9" font-size="30" font-weight="bold">(e)</text>
<text x="466.0" y="592.5" font-size="26.5" text-anchor="middle">MJD</text>
<text x="466.0" y="624.6" font-size="26.5" text-anchor="middle">59814</text>
<path fill="#6c966e" d="M697.90 724.00h1.85v-2.70h-1.85zM699.83 724.00h1.85v-2.70h-1.85zM701.76 724.00h1.85v-2.70h-1.85zM703.69 724.00h1.85v-4.05h-1.85zM705.62 724.00h1.85v-6.75h-1.85zM707.55 724.00h1.85v-4.05h-1.85zM709.48 724.00h1.85v-1.35h-1.85zM711.41 724.00h1.85v-5.40h-1.85zM713.34 724.00h1.85v-1.35h-1.85zM715.27 724.00h1.85v-8.09h-1.85zM717.19 724.00h1.85v-2.70h-1.85zM719.12 724.00h1.85v-4.05h-1.85zM721.05 724.00h1.85v-2.70h-1.85zM722.98 724.00h1.85v-8.09h-1.85zM724.91 724.00h1.85v-2.70h-1.85zM726.84 724.00h1.85v-1.35h-1.85zM728.77 724.00h1.85v-6.75h-1.85zM730.70 724.00h1.85v-2.70h-1.85zM732.63 724.00h1.85v-1.35h-1.85zM734.56 724.00h1.85v-2.70h-1.85zM736.49 724.00h1.85v-2.70h-1.85zM738.42 724.00h1.85v-1.35h-1.85zM740.35 724.00h1.85v-1.35h-1.85zM742.28 724.00h1.85v-5.40h-1.85zM744.21 724.00h1.85v-2.70h-1.85zM746.14 724.00h1.85v-6.75h-1.85zM748.07 724.00h1.85v-6.75h-1.85zM750.00 724.00h1.85v-2.70h-1.85zM751.93 724.00h1.85v-4.05h-1.85zM753.86 724.00h1.85v-6.75h-1.85zM755.78 724.00h1.85v-4.05h-1.85zM757.71 724.00h1.85v-2.70h-1.85zM759.64 724.00h1.85v-5.40h-1.85zM761.57 724.00h1.85v-8.09h-1.85zM763.50 724.00h1.85v-5.40h-1.85zM765.43 724.00h1.85v-1.35h-1.85zM767.36 724.00h1.85v-4.05h-1.85zM769.29 724.00h1.85v-2.70h-1.85zM771.22 724.00h1.85v-4.05h-1.85zM773.15 724.00h1.85v-5.40h-1.85zM775.08 724.00h1.85v-4.05h-1.85zM777.01 724.00h1.85v-2.70h-1.85zM778.94 724.00h1.85v-1.35h-1.85zM780.87 724.00h1.85v-2.70h-1.85zM782.80 724.00h1.85v-2.70h-1.85zM784.73 724.00h1.85v-1.35h-1.85zM786.66 724.00h1.85v-5.40h-1.85zM788.59 724.00h1.85v-2.70h-1.85zM790.52 724.00h1.85v-2.70h-1.85zM792.45 724.00h1.85v-1.35h-1.85zM794.38 724.00h1.85v-1.35h-1.85zM796.30 724.00h1.85v-4.05h-1.85zM798.23 724.00h1.85v-2.70h-1.85zM800.16 724.00h1.85v-2.70h-1.85zM804.02 724.00h1.85v-2.70h-1.85zM805.95 724.00h1.85v-1.35h-1.85zM807.88 724.00h1.85v-2.70h-1.85zM809.81 724.00h1.85v-1.35h-1.85zM811.74 724.00h1.85v-1.35h-1.85zM813.67 724.00h1.85v-1.35h-1.85zM815.60 724.00h1.85v-1.35h-1.85zM817.53 724.00h1.85v-1.35h-1.85zM819.46 724.00h1.85v-1.35h-1.85zM821.39 724.00h1.85v-2.70h-1.85zM823.32 724.00h1.85v-4.05h-1.85zM825.25 724.00h1.85v-4.05h-1.85zM827.18 724.00h1.85v-8.09h-1.85zM829.11 724.00h1.85v-1.35h-1.85zM831.04 724.00h1.85v-2.70h-1.85zM832.96 724.00h1.85v-2.70h-1.85zM834.89 724.00h1.85v-8.09h-1.85zM836.82 724.00h1.85v-4.05h-1.85zM838.75 724.00h1.85v-9.44h-1.85zM840.68 724.00h1.85v-9.44h-1.85zM842.61 724.00h1.85v-5.40h-1.85zM844.54 724.00h1.85v-18.89h-1.85zM846.47 724.00h1.85v-9.44h-1.85zM848.40 724.00h1.85v-10.79h-1.85zM850.33 724.00h1.85v-31.03h-1.85zM852.26 724.00h1.85v-33.73h-1.85zM854.19 724.00h1.85v-51.27h-1.85zM856.12 724.00h1.85v-53.97h-1.85zM858.05 724.00h1.85v-66.11h-1.85zM859.98 724.00h1.85v-82.30h-1.85zM861.91 724.00h1.85v-107.93h-1.85zM863.84 724.00h1.85v-121.42h-1.85zM865.77 724.00h1.85v-137.61h-1.85zM867.70 724.00h1.85v-136.27h-1.85zM869.63 724.00h1.85v-160.55h-1.85zM871.55 724.00h1.85v-156.50h-1.85zM873.48 724.00h1.85v-156.50h-1.85zM875.41 724.00h1.85v-145.71h-1.85zM877.34 724.00h1.85v-120.08h-1.85zM879.27 724.00h1.85v-90.39h-1.85zM881.20 724.00h1.85v-85.00h-1.85zM883.13 724.00h1.85v-63.41h-1.85zM885.06 724.00h1.85v-45.87h-1.85zM886.99 724.00h1.85v-40.47h-1.85zM888.92 724.00h1.85v-31.03h-1.85zM890.85 724.00h1.85v-22.94h-1.85zM892.78 724.00h1.85v-17.54h-1.85zM894.71 724.00h1.85v-14.84h-1.85zM896.64 724.00h1.85v-12.14h-1.85zM898.57 724.00h1.85v-6.75h-1.85zM900.50 724.00h1.85v-5.40h-1.85zM902.43 724.00h1.85v-8.09h-1.85zM904.36 724.00h1.85v-8.09h-1.85zM906.29 724.00h1.85v-4.05h-1.85zM908.22 724.00h1.85v-6.75h-1.85zM910.14 724.00h1.85v-6.75h-1.85zM912.07 724.00h1.85v-2.70h-1.85zM914.00 724.00h1.85v-6.75h-1.85zM915.93 724.00h1.85v-1.35h-1.85zM917.86 724.00h1.85v-1.35h-1.85zM919.79 724.00h1.85v-2.70h-1.85zM923.65 724.00h1.85v-5.40h-1.85zM925.58 724.00h1.85v-2.70h-1.85zM927.51 724.00h1.85v-2.70h-1.85zM929.44 724.00h1.85v-2.70h-1.85zM931.37 724.00h1.85v-2.70h-1.85zM933.30 724.00h1.85v-12.14h-1.85zM935.23 724.00h1.85v-2.70h-1.85zM937.16 724.00h1.85v-5.40h-1.85zM939.09 724.00h1.85v-5.40h-1.85zM941.02 724.00h1.85v-5.40h-1.85zM942.95 724.00h1.85v-2.70h-1.85zM944.88 724.00h1.85v-5.40h-1.85zM946.81 724.00h1.85v-1.35h-1.85zM948.74 724.00h1.85v-1.35h-1.85zM950.66 724.00h1.85v-5.40h-1.85zM952.59 724.00h1.85v-4.05h-1.85zM954.52 724.00h1.85v-1.35h-1.85zM956.45 724.00h1.85v-4.05h-1.85zM958.38 724.00h1.85v-8.09h-1.85zM960.31 724.00h1.85v-6.75h-1.85zM962.24 724.00h1.85v-6.75h-1.85zM964.17 724.00h1.85v-2.70h-1.85zM966.10 724.00h1.85v-2.70h-1.85zM968.03 724.00h1.85v-6.75h-1.85zM969.96 724.00h1.85v-1.35h-1.85zM971.89 724.00h1.85v-2.70h-1.85zM973.82 724.00h1.85v-2.70h-1.85zM975.75 724.00h1.85v-5.40h-1.85zM979.61 724.00h1.85v-6.75h-1.85zM981.54 724.00h1.85v-1.35h-1.85zM983.47 724.00h1.85v-2.70h-1.85zM985.40 724.00h1.85v-2.70h-1.85zM987.33 724.00h1.85v-2.70h-1.85zM989.25 724.00h1.85v-5.40h-1.85zM991.18 724.00h1.85v-2.70h-1.85zM993.11 724.00h1.85v-2.70h-1.85zM995.04 724.00h1.85v-1.35h-1.85zM1000.83 724.00h1.85v-4.05h-1.85zM1002.76 724.00h1.85v-1.35h-1.85zM1004.69 724.00h1.85v-5.40h-1.85zM1008.55 724.00h1.85v-6.75h-1.85zM1010.48 724.00h1.85v-2.70h-1.85zM1012.41 724.00h1.85v-1.35h-1.85zM1014.34 724.00h1.85v-4.05h-1.85zM1016.27 724.00h1.85v-4.05h-1.85zM1018.20 724.00h1.85v-2.70h-1.85zM1020.13 724.00h1.85v-5.40h-1.85zM1022.06 724.00h1.85v-4.05h-1.85zM1023.99 724.00h1.85v-4.05h-1.85zM1025.91 724.00h1.85v-5.40h-1.85zM1027.84 724.00h1.85v-1.35h-1.85zM1029.77 724.00h1.85v-5.40h-1.85zM1031.70 724.00h1.85v-6.75h-1.85zM1033.63 724.00h1.85v-12.14h-1.85zM1035.56 724.00h1.85v-4.05h-1.85zM1039.42 724.00h1.85v-2.70h-1.85zM1041.35 724.00h1.85v-4.05h-1.85zM1043.28 724.00h1.85v-6.75h-1.85zM1045.21 724.00h1.85v-1.35h-1.85zM1047.14 724.00h1.85v-5.40h-1.85zM1049.07 724.00h1.85v-1.35h-1.85zM1051.00 724.00h1.85v-2.70h-1.85zM1052.93 724.00h1.85v-4.05h-1.85zM1054.86 724.00h1.85v-2.70h-1.85zM1056.79 724.00h1.85v-9.44h-1.85zM1058.72 724.00h1.85v-2.70h-1.85zM1060.65 724.00h1.85v-5.40h-1.85zM1062.58 724.00h1.85v-1.35h-1.85zM1064.51 724.00h1.85v-10.79h-1.85zM1066.43 724.00h1.85v-2.70h-1.85zM1068.36 724.00h1.85v-5.40h-1.85zM1070.29 724.00h1.85v-5.40h-1.85zM1072.22 724.00h1.85v-1.35h-1.85zM1074.15 724.00h1.85v-2.70h-1.85zM1076.08 724.00h1.85v-2.70h-1.85zM1078.01 724.00h1.85v-8.09h-1.85zM1079.94 724.00h1.85v-2.70h-1.85zM1081.87 724.00h1.85v-5.40h-1.85z"/>
<polyline fill="none" stroke="#ff0000" stroke-width="5.3" stroke-linejoin="round" points="697.90,720.22 698.86,720.22 699.83,720.22 700.79,720.22 701.76,720.22 702.72,720.22 703.69,720.22 704.65,720.22 705.62,720.22 706.58,720.22 707.55,720.22 708.51,720.22 709.48,720.22 710.44,720.22 711.41,720.22 712.37,720.22 713.34,720.22 714.30,720.22 715.27,720.22 716.23,720.22 717.19,720.22 718.16,720.22 719.12,720.22 720.09,720.22 721.05,720.22 722.02,720.22 722.98,720.22 723.95,720.22 724.91,720.22 725.88,720.22 726.84,720.22 727.81,720.22 728.77,720.22 729.74,720.22 730.70,720.22 731.67,720.22 732.63,720.22 733.60,720.22 734.56,720.22 735.53,720.22 736.49,720.22 737.45,720.22 738.42,720.22 739.38,720.22 740.35,720.22 741.31,720.22 742.28,720.22 743.24,720.22 744.21,720.22 745.17,720.22 746.14,720.22 747.10,720.22 748.07,720.22 749.03,720.22 750.00,720.22 750.96,720.22 751.93,720.22 752.89,720.22 753.86,720.22 754.82,720.22 755.78,720.22 756.75,720.22 757.71,720.22 758.68,720.22 759.64,720.22 760.61,720.22 761.57,720.22 762.54,720.22 763.50,720.22 764.47,720.22 765.43,720.22 766.40,720.22 767.36,720.22 768.33,720.22 769.29,720.22 770.26,720.22 771.22,720.22 772.19,720.22 773.15,720.22 774.12,720.22 775.08,720.22 776.04,720.22 777.01,720.22 777.97,720.22 778.94,720.22 779.90,720.22 780.87,720.22 781.83,720.22 782.80,720.22 783.76,720.22 784.73,720.22 785.69,720.22 786.66,720.22 787.62,720.22 788.59,720.22 789.55,720.22 790.52,720.22 791.48,720.22 792.45,720.22 793.41,720.22 794.38,720.22 795.34,720.22 796.30,720.22 797.27,720.22 798.23,720.22 799.20,720.22 800.16,720.22 801.13,720.22 802.09,720.22 803.06,720.22 804.02,720.22 804.99,720.22 805.95,720.22 806.92,720.22 807.88,720.22 808.85,720.22 809.81,720.22 810.78,720.22 811.74,720.22 812.71,720.22 813.67,720.22 814.63,720.22 815.60,720.22 816.56,720.22 817.53,720.22 818.49,720.22 819.46,720.22 820.42,720.22 821.39,720.22 822.35,720.22 823.32,720.22 824.28,720.22 825.25,720.22 826.21,720.22 827.18,720.22 828.14,720.21 829.11,720.21 830.07,720.20 831.04,720.19 832.00,720.17 832.96,720.15 833.93,720.12 834.89,720.07 835.86,720.00 836.82,719.92 837.79,719.80 838.75,719.63 839.72,719.42 840.68,719.13 841.65,718.76 842.61,718.27 843.58,717.65 844.54,716.86 845.51,715.88 846.47,714.65 847.44,713.14 848.40,711.31 849.37,709.10 850.33,706.48 851.30,703.40 852.26,699.81 853.22,695.69 854.19,691.00 855.15,685.74 856.12,679.91 857.08,673.53 858.05,666.63 859.01,659.28 859.98,651.56 860.94,643.57 861.91,635.45 862.87,627.32 863.84,619.35 864.80,611.71 865.77,604.56 866.73,598.08 867.70,592.41 868.66,587.72 869.63,584.12 870.59,581.71 871.55,580.55 872.52,580.68 873.48,582.09 874.45,584.75 875.41,588.58 876.38,593.47 877.34,599.31 878.31,605.94 879.27,613.20 880.24,620.92 881.20,628.94 882.17,637.08 883.13,645.19 884.10,653.13 885.06,660.78 886.03,668.05 886.99,674.84 887.96,681.12 888.92,686.84 889.89,691.98 890.85,696.55 891.81,700.57 892.78,704.05 893.74,707.04 894.71,709.57 895.67,711.70 896.64,713.47 897.60,714.91 898.57,716.09 899.53,717.04 900.50,717.79 901.46,718.38 902.43,718.84 903.39,719.19 904.36,719.47 905.32,719.67 906.29,719.82 907.25,719.94 908.22,720.02 909.18,720.08 910.14,720.12 911.11,720.15 912.07,720.18 913.04,720.19 914.00,720.20 914.97,720.21 915.93,720.21 916.90,720.22 917.86,720.22 918.83,720.22 919.79,720.22 920.76,720.22 921.72,720.22 922.69,720.22 923.65,720.22 924.62,720.22 925.58,720.22 926.55,720.22 927.51,720.22 928.48,720.22 929.44,720.22 930.40,720.22 931.37,720.22 932.33,720.22 933.30,720.22 934.26,720.22 935.23,720.22 936.19,720.22 937.16,720.22 938.12,720.22 939.09,720.22 940.05,720.22 941.02,720.22 941.98,720.22 942.95,720.22 943.91,720.22 944.88,720.22 945.84,720.22 946.81,720.22 947.77,720.22 948.73,720.22 949.70,720.22 950.66,720.22 951.63,720.22 952.59,720.22 953.56,720.22 954.52,720.22 955.49,720.22 956.45,720.22 957.42,720.22 958.38,720.22 959.35,720.22 960.31,720.22 961.28,720.22 962.24,720.22 963.21,720.22 964.17,720.22 965.14,720.22 966.10,720.22 967.07,720.22 968.03,720.22 968.99,720.22 969.96,720.22 970.92,720.22 971.89,720.22 972.85,720.22 973.82,720.22 974.78,720.22 975.75,720.22 976.71,720.22 977.68,720.22 978.64,720.22 979.61,720.22 980.57,720.22 981.54,720.22 982.50,720.22 983.47,720.22 984.43,720.22 985.40,720.22 986.36,720.22 987.32,720.22 988.29,720.22 989.25,720.22 990.22,720.22 991.18,720.22 992.15,720.22 993.11,720.22 994.08,720.22 995.04,720.22 996.01,720.22 996.97,720.22 997.94,720.22 998.90,720.22 999.87,720.22 1000.83,720.22 1001.80,720.22 1002.76,720.22 1003.73,720.22 1004.69,720.22 1005.66,720.22 1006.62,720.22 1007.58,720.22 1008.55,720.22 1009.51,720.22 1010.48,720.22 1011.44,720.22 1012.41,720.22 1013.37,720.22 1014.34,720.22 1015.30,720.22 1016.27,720.22 1017.23,720.22 1018.20,720.22 1019.16,720.22 1020.13,720.22 1021.09,720.22 1022.06,720.22 1023.02,720.22 1023.99,720.22 1024.95,720.22 1025.91,720.22 1026.88,720.22 1027.84,720.22 1028.81,720.22 1029.77,720.22 1030.74,720.22 1031.70,720.22 1032.67,720.22 1033.63,720.22 1034.60,720.22 1035.56,720.22 1036.53,720.22 1037.49,720.22 1038.46,720.22 1039.42,720.22 1040.39,720.22 1041.35,720.22 1042.32,720.22 1043.28,720.22 1044.25,720.22 1045.21,720.22 1046.17,720.22 1047.14,720.22 1048.10,720.22 1049.07,720.22 1050.03,720.22 1051.00,720.22 1051.96,720.22 1052.93,720.22 1053.89,720.22 1054.86,720.22 1055.82,720.22 1056.79,720.22 1057.75,720.22 1058.72,720.22 1059.68,720.22 1060.65,720.22 1061.61,720.22 1062.58,720.22 1063.54,720.22 1064.50,720.22 1065.47,720.22 1066.43,720.22 1067.40,720.22 1068.36,720.22 1069.33,720.22 1070.29,720.22 1071.26,720.22 1072.22,720.22 1073.19,720.22 1074.15,720.22 1075.12,720.22 1076.08,720.22 1077.05,720.22 1078.01,720.22 1078.98,720.22 1079.94,720.22 1080.91,720.22 1081.87,720.22 1082.84,720.22 1083.80,720.22"/>
<rect x="697.9" y="562.1" width="385.90" height="161.90" fill="none" stroke="#000" stroke-width="2.2"/>
<path stroke="#000" stroke-width="2.2" fill="none" d="M697.90 724.00h-12.5M697.90 703.76h-6.5M697.90 683.52h-12.5M697.90 663.29h-6.5M697.90 643.05h-12.5M697.90 622.81h-6.5M697.90 602.58h-12.5M697.90 582.34h-6.5M697.90 562.10h-12.5M697.90 724.00v12.5M746.14 724.00v6.5M794.38 724.00v12.5M842.61 724.00v6.5M890.85 724.00v12.5M939.09 724.00v6.5M987.32 724.00v12.5M1035.56 724.00v6.5M1083.80 724.00v12.5"/>
<text x="676.9" y="735.5" font-size="38" text-anchor="end">0</text>
<text x="676.9" y="695.0" font-size="38" text-anchor="end">30</text>
<text x="676.9" y="654.5" font-size="38" text-anchor="end">60</text>
<text x="676.9" y="614.1" font-size="38" text-anchor="end">90</text>
<text x="676.9" y="573.6" font-size="38" text-anchor="end">120</text>
<text x="697.9" y="774.0" font-size="38" text-anchor="middle">-1000</text>
<text x="794.4" y="774.0" font-size="38" text-anchor="middle">-500</text>
<text x="890.8" y="774.0" font-size="38" text-anchor="middle">0</text>
<text x="987.3" y="774.0" font-size="38" text-anchor="middle">500</text>
<text x="1083.8" y="774.0" font-size="38" text-anchor="middle">1000</text>
<text x="712.3" y="596.5" font-size="30" font-weight="bold">(f)</text>
<text transform="translate(35.3,480) rotate(-90)" font-size="41">Counts (in 50s)</text>
<text transform="translate(603,513.5) rotate(-90)" font-size="41">Counts (in 50s)</text>
<text x="228.5" y="820.2" font-size="40">Delay (ps)</text>
<text x="807.6" y="817.2" font-size="40">Delay (ps)</text>
<rect x="225.5" y="5" width="77" height="39" fill="#d8b2f9" stroke="#9c82b8" stroke-width="1.8"/>
<text x="312.8" y="36" font-size="35">Uplink</text>
<rect x="802" y="10" width="71" height="35" fill="#a9f5a9" stroke="#8fb58f" stroke-width="1.8"/>
<text x="883.2" y="38.4" font-size="34.7">Downlink</text>
</svg></body></html>
